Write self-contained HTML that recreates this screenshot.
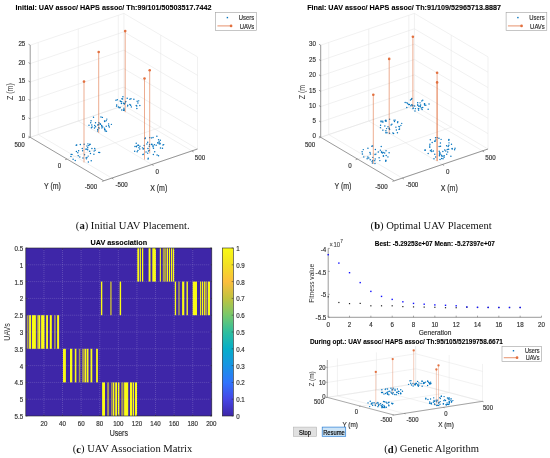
<!DOCTYPE html><html><head><meta charset="utf-8"><style>html,body{margin:0;padding:0;background:#fff;width:550px;height:458px;overflow:hidden}svg{display:block;filter:blur(0.4px)}</style></head><body><svg width="550" height="458" viewBox="0 0 550 458" font-family="Liberation Sans, sans-serif">
<rect width="550" height="458" fill="#fff"/>
<line x1="111.81" y1="178.08" x2="38.21" y2="134.58" stroke="#e2e2e2" stroke-width="0.5" />
<line x1="151.86" y1="164.49" x2="78.26" y2="120.99" stroke="#e2e2e2" stroke-width="0.5" />
<line x1="191.91" y1="150.90" x2="118.31" y2="107.40" stroke="#e2e2e2" stroke-width="0.5" />
<line x1="103.80" y1="180.80" x2="197.52" y2="149.00" stroke="#e2e2e2" stroke-width="0.5" />
<line x1="67.00" y1="159.05" x2="160.72" y2="127.25" stroke="#e2e2e2" stroke-width="0.5" />
<line x1="30.20" y1="137.30" x2="123.92" y2="105.50" stroke="#e2e2e2" stroke-width="0.5" />
<line x1="38.21" y1="134.58" x2="38.21" y2="42.48" stroke="#e2e2e2" stroke-width="0.5" />
<line x1="78.26" y1="120.99" x2="78.26" y2="28.89" stroke="#e2e2e2" stroke-width="0.5" />
<line x1="118.31" y1="107.40" x2="118.31" y2="15.30" stroke="#e2e2e2" stroke-width="0.5" />
<line x1="30.20" y1="137.30" x2="123.92" y2="105.50" stroke="#e2e2e2" stroke-width="0.5" />
<line x1="30.20" y1="118.88" x2="123.92" y2="87.08" stroke="#e2e2e2" stroke-width="0.5" />
<line x1="30.20" y1="100.46" x2="123.92" y2="68.66" stroke="#e2e2e2" stroke-width="0.5" />
<line x1="30.20" y1="82.04" x2="123.92" y2="50.24" stroke="#e2e2e2" stroke-width="0.5" />
<line x1="30.20" y1="63.62" x2="123.92" y2="31.82" stroke="#e2e2e2" stroke-width="0.5" />
<line x1="30.20" y1="45.20" x2="123.92" y2="13.40" stroke="#e2e2e2" stroke-width="0.5" />
<line x1="197.52" y1="149.00" x2="197.52" y2="56.90" stroke="#e2e2e2" stroke-width="0.5" />
<line x1="160.72" y1="127.25" x2="160.72" y2="35.15" stroke="#e2e2e2" stroke-width="0.5" />
<line x1="123.92" y1="105.50" x2="123.92" y2="13.40" stroke="#e2e2e2" stroke-width="0.5" />
<line x1="197.52" y1="149.00" x2="123.92" y2="105.50" stroke="#e2e2e2" stroke-width="0.5" />
<line x1="197.52" y1="130.58" x2="123.92" y2="87.08" stroke="#e2e2e2" stroke-width="0.5" />
<line x1="197.52" y1="112.16" x2="123.92" y2="68.66" stroke="#e2e2e2" stroke-width="0.5" />
<line x1="197.52" y1="93.74" x2="123.92" y2="50.24" stroke="#e2e2e2" stroke-width="0.5" />
<line x1="197.52" y1="75.32" x2="123.92" y2="31.82" stroke="#e2e2e2" stroke-width="0.5" />
<line x1="197.52" y1="56.90" x2="123.92" y2="13.40" stroke="#e2e2e2" stroke-width="0.5" />
<line x1="30.20" y1="137.30" x2="30.20" y2="45.20" stroke="#6e6e6e" stroke-width="0.7" />
<line x1="30.20" y1="137.30" x2="103.80" y2="180.80" stroke="#6e6e6e" stroke-width="0.7" />
<line x1="103.80" y1="180.80" x2="197.52" y2="149.00" stroke="#6e6e6e" stroke-width="0.7" />
<line x1="30.20" y1="137.30" x2="28.48" y2="136.28" stroke="#6e6e6e" stroke-width="0.63" />
<line x1="30.20" y1="118.88" x2="28.48" y2="117.86" stroke="#6e6e6e" stroke-width="0.63" />
<line x1="30.20" y1="100.46" x2="28.48" y2="99.44" stroke="#6e6e6e" stroke-width="0.63" />
<line x1="30.20" y1="82.04" x2="28.48" y2="81.02" stroke="#6e6e6e" stroke-width="0.63" />
<line x1="30.20" y1="63.62" x2="28.48" y2="62.60" stroke="#6e6e6e" stroke-width="0.63" />
<line x1="30.20" y1="45.20" x2="28.48" y2="44.18" stroke="#6e6e6e" stroke-width="0.63" />
<line x1="111.81" y1="178.08" x2="113.53" y2="179.10" stroke="#6e6e6e" stroke-width="0.63" />
<line x1="151.86" y1="164.49" x2="153.58" y2="165.51" stroke="#6e6e6e" stroke-width="0.63" />
<line x1="191.91" y1="150.90" x2="193.63" y2="151.92" stroke="#6e6e6e" stroke-width="0.63" />
<line x1="103.80" y1="180.80" x2="101.91" y2="181.44" stroke="#6e6e6e" stroke-width="0.63" />
<line x1="67.00" y1="159.05" x2="65.11" y2="159.69" stroke="#6e6e6e" stroke-width="0.63" />
<line x1="30.20" y1="137.30" x2="28.31" y2="137.94" stroke="#6e6e6e" stroke-width="0.63" />
<text transform="translate(25.30,135.40) scale(0.82,1)" font-size="7.56" text-anchor="end" font-weight="normal" fill="#303030" stroke="#303030" stroke-width="0.18" dominant-baseline="central">0</text>
<text transform="translate(25.30,117.00) scale(0.82,1)" font-size="7.56" text-anchor="end" font-weight="normal" fill="#303030" stroke="#303030" stroke-width="0.18" dominant-baseline="central">5</text>
<text transform="translate(25.30,98.60) scale(0.82,1)" font-size="7.56" text-anchor="end" font-weight="normal" fill="#303030" stroke="#303030" stroke-width="0.18" dominant-baseline="central">10</text>
<text transform="translate(25.30,80.20) scale(0.82,1)" font-size="7.56" text-anchor="end" font-weight="normal" fill="#303030" stroke="#303030" stroke-width="0.18" dominant-baseline="central">15</text>
<text transform="translate(25.30,61.80) scale(0.82,1)" font-size="7.56" text-anchor="end" font-weight="normal" fill="#303030" stroke="#303030" stroke-width="0.18" dominant-baseline="central">20</text>
<text transform="translate(25.30,43.20) scale(0.82,1)" font-size="7.56" text-anchor="end" font-weight="normal" fill="#303030" stroke="#303030" stroke-width="0.18" dominant-baseline="central">25</text>
<text transform="translate(121.60,184.70) scale(0.82,1)" font-size="7.56" text-anchor="middle" font-weight="normal" fill="#303030" stroke="#303030" stroke-width="0.18" dominant-baseline="central">-500</text>
<text transform="translate(157.20,171.00) scale(0.82,1)" font-size="7.56" text-anchor="middle" font-weight="normal" fill="#303030" stroke="#303030" stroke-width="0.18" dominant-baseline="central">0</text>
<text transform="translate(200.00,157.00) scale(0.82,1)" font-size="7.56" text-anchor="middle" font-weight="normal" fill="#303030" stroke="#303030" stroke-width="0.18" dominant-baseline="central">500</text>
<text transform="translate(19.60,144.00) scale(0.82,1)" font-size="7.56" text-anchor="middle" font-weight="normal" fill="#303030" stroke="#303030" stroke-width="0.18" dominant-baseline="central">500</text>
<text transform="translate(59.40,165.50) scale(0.82,1)" font-size="7.56" text-anchor="middle" font-weight="normal" fill="#303030" stroke="#303030" stroke-width="0.18" dominant-baseline="central">0</text>
<text transform="translate(91.00,186.00) scale(0.82,1)" font-size="7.56" text-anchor="middle" font-weight="normal" fill="#303030" stroke="#303030" stroke-width="0.18" dominant-baseline="central">-500</text>
<text transform="translate(158.70,188.50) scale(0.82,1)" font-size="8.54" text-anchor="middle" font-weight="normal" fill="#303030" stroke="#303030" stroke-width="0.18" dominant-baseline="central">X (m)</text>
<text transform="translate(52.40,185.80) scale(0.82,1)" font-size="8.54" text-anchor="middle" font-weight="normal" fill="#303030" stroke="#303030" stroke-width="0.18" dominant-baseline="central">Y (m)</text>
<text transform="translate(10.2,91.6) rotate(-90) scale(0.82,1)" font-size="8.54" text-anchor="middle" fill="#303030" dominant-baseline="central">Z (m)</text>
<text transform="translate(113.60,7.40) scale(0.9,1)" font-size="8.00" text-anchor="middle" font-weight="bold" fill="#000" stroke="#000" stroke-width="0.1" dominant-baseline="central">Initial: UAV assoc/ HAPS assoc/ Th:99/101/50503517.7442</text>
<circle cx="131.38" cy="106.90" r="0.72" fill="#0072BD"/>
<circle cx="136.80" cy="106.07" r="0.72" fill="#0072BD"/>
<circle cx="120.09" cy="107.57" r="0.72" fill="#0072BD"/>
<circle cx="123.48" cy="103.21" r="0.72" fill="#0072BD"/>
<circle cx="124.36" cy="103.91" r="0.72" fill="#0072BD"/>
<circle cx="129.87" cy="104.41" r="0.72" fill="#0072BD"/>
<circle cx="130.97" cy="98.80" r="0.72" fill="#0072BD"/>
<circle cx="127.61" cy="106.01" r="0.72" fill="#0072BD"/>
<circle cx="137.15" cy="101.31" r="0.72" fill="#0072BD"/>
<circle cx="118.45" cy="106.88" r="0.72" fill="#0072BD"/>
<circle cx="139.86" cy="105.52" r="0.72" fill="#0072BD"/>
<circle cx="123.65" cy="110.30" r="0.72" fill="#0072BD"/>
<circle cx="130.67" cy="105.30" r="0.72" fill="#0072BD"/>
<circle cx="129.89" cy="99.34" r="0.72" fill="#0072BD"/>
<circle cx="121.69" cy="101.67" r="0.72" fill="#0072BD"/>
<circle cx="119.13" cy="107.78" r="0.72" fill="#0072BD"/>
<circle cx="136.23" cy="105.52" r="0.72" fill="#0072BD"/>
<circle cx="127.72" cy="105.13" r="0.72" fill="#0072BD"/>
<circle cx="116.57" cy="106.13" r="0.72" fill="#0072BD"/>
<circle cx="120.16" cy="101.06" r="0.72" fill="#0072BD"/>
<circle cx="123.94" cy="108.30" r="0.72" fill="#0072BD"/>
<circle cx="122.93" cy="96.70" r="0.72" fill="#0072BD"/>
<circle cx="120.71" cy="101.56" r="0.72" fill="#0072BD"/>
<circle cx="133.88" cy="99.31" r="0.72" fill="#0072BD"/>
<circle cx="124.02" cy="109.77" r="0.72" fill="#0072BD"/>
<circle cx="136.87" cy="108.52" r="0.72" fill="#0072BD"/>
<circle cx="127.20" cy="98.26" r="0.72" fill="#0072BD"/>
<circle cx="121.43" cy="103.51" r="0.72" fill="#0072BD"/>
<circle cx="125.46" cy="101.96" r="0.72" fill="#0072BD"/>
<circle cx="115.98" cy="100.28" r="0.72" fill="#0072BD"/>
<circle cx="121.77" cy="110.02" r="0.72" fill="#0072BD"/>
<circle cx="117.26" cy="99.67" r="0.72" fill="#0072BD"/>
<circle cx="116.69" cy="104.91" r="0.72" fill="#0072BD"/>
<circle cx="138.69" cy="100.86" r="0.72" fill="#0072BD"/>
<circle cx="121.92" cy="98.69" r="0.72" fill="#0072BD"/>
<circle cx="125.78" cy="101.47" r="0.72" fill="#0072BD"/>
<circle cx="137.89" cy="103.03" r="0.72" fill="#0072BD"/>
<circle cx="124.10" cy="110.21" r="0.72" fill="#0072BD"/>
<circle cx="122.61" cy="99.07" r="0.72" fill="#0072BD"/>
<circle cx="124.79" cy="103.58" r="0.72" fill="#0072BD"/>
<circle cx="102.75" cy="126.96" r="0.72" fill="#0072BD"/>
<circle cx="98.89" cy="122.72" r="0.72" fill="#0072BD"/>
<circle cx="98.58" cy="127.65" r="0.72" fill="#0072BD"/>
<circle cx="104.55" cy="120.99" r="0.72" fill="#0072BD"/>
<circle cx="94.73" cy="125.43" r="0.72" fill="#0072BD"/>
<circle cx="106.21" cy="120.63" r="0.72" fill="#0072BD"/>
<circle cx="106.82" cy="119.10" r="0.72" fill="#0072BD"/>
<circle cx="92.13" cy="126.90" r="0.72" fill="#0072BD"/>
<circle cx="104.76" cy="121.43" r="0.72" fill="#0072BD"/>
<circle cx="106.49" cy="131.22" r="0.72" fill="#0072BD"/>
<circle cx="99.16" cy="128.12" r="0.72" fill="#0072BD"/>
<circle cx="91.77" cy="125.07" r="0.72" fill="#0072BD"/>
<circle cx="97.64" cy="130.97" r="0.72" fill="#0072BD"/>
<circle cx="97.72" cy="124.96" r="0.72" fill="#0072BD"/>
<circle cx="90.72" cy="122.68" r="0.72" fill="#0072BD"/>
<circle cx="93.51" cy="117.25" r="0.72" fill="#0072BD"/>
<circle cx="91.07" cy="120.74" r="0.72" fill="#0072BD"/>
<circle cx="109.36" cy="126.94" r="0.72" fill="#0072BD"/>
<circle cx="100.99" cy="117.06" r="0.72" fill="#0072BD"/>
<circle cx="102.38" cy="117.38" r="0.72" fill="#0072BD"/>
<circle cx="91.44" cy="127.75" r="0.72" fill="#0072BD"/>
<circle cx="95.51" cy="122.73" r="0.72" fill="#0072BD"/>
<circle cx="101.68" cy="125.54" r="0.72" fill="#0072BD"/>
<circle cx="101.85" cy="127.89" r="0.72" fill="#0072BD"/>
<circle cx="106.22" cy="126.25" r="0.72" fill="#0072BD"/>
<circle cx="98.62" cy="124.80" r="0.72" fill="#0072BD"/>
<circle cx="95.58" cy="126.67" r="0.72" fill="#0072BD"/>
<circle cx="100.07" cy="123.77" r="0.72" fill="#0072BD"/>
<circle cx="105.03" cy="129.86" r="0.72" fill="#0072BD"/>
<circle cx="94.46" cy="128.07" r="0.72" fill="#0072BD"/>
<circle cx="104.55" cy="128.15" r="0.72" fill="#0072BD"/>
<circle cx="111.39" cy="124.37" r="0.72" fill="#0072BD"/>
<circle cx="88.99" cy="125.27" r="0.72" fill="#0072BD"/>
<circle cx="101.79" cy="126.14" r="0.72" fill="#0072BD"/>
<circle cx="97.74" cy="129.48" r="0.72" fill="#0072BD"/>
<circle cx="105.23" cy="131.04" r="0.72" fill="#0072BD"/>
<circle cx="100.53" cy="124.32" r="0.72" fill="#0072BD"/>
<circle cx="104.66" cy="129.45" r="0.72" fill="#0072BD"/>
<circle cx="108.67" cy="125.72" r="0.72" fill="#0072BD"/>
<circle cx="108.58" cy="123.90" r="0.72" fill="#0072BD"/>
<circle cx="80.32" cy="144.43" r="0.72" fill="#0072BD"/>
<circle cx="79.80" cy="157.00" r="0.72" fill="#0072BD"/>
<circle cx="85.85" cy="149.15" r="0.72" fill="#0072BD"/>
<circle cx="87.01" cy="146.02" r="0.72" fill="#0072BD"/>
<circle cx="86.47" cy="158.86" r="0.72" fill="#0072BD"/>
<circle cx="98.63" cy="152.35" r="0.72" fill="#0072BD"/>
<circle cx="89.84" cy="144.53" r="0.72" fill="#0072BD"/>
<circle cx="84.13" cy="144.17" r="0.72" fill="#0072BD"/>
<circle cx="77.81" cy="152.67" r="0.72" fill="#0072BD"/>
<circle cx="93.91" cy="154.28" r="0.72" fill="#0072BD"/>
<circle cx="84.53" cy="154.84" r="0.72" fill="#0072BD"/>
<circle cx="82.27" cy="148.44" r="0.72" fill="#0072BD"/>
<circle cx="70.94" cy="156.38" r="0.72" fill="#0072BD"/>
<circle cx="99.67" cy="152.47" r="0.72" fill="#0072BD"/>
<circle cx="75.20" cy="160.55" r="0.72" fill="#0072BD"/>
<circle cx="86.03" cy="157.85" r="0.72" fill="#0072BD"/>
<circle cx="86.91" cy="157.45" r="0.72" fill="#0072BD"/>
<circle cx="94.73" cy="148.57" r="0.72" fill="#0072BD"/>
<circle cx="71.18" cy="154.38" r="0.72" fill="#0072BD"/>
<circle cx="88.77" cy="145.51" r="0.72" fill="#0072BD"/>
<circle cx="82.64" cy="150.74" r="0.72" fill="#0072BD"/>
<circle cx="87.92" cy="143.86" r="0.72" fill="#0072BD"/>
<circle cx="71.96" cy="154.39" r="0.72" fill="#0072BD"/>
<circle cx="86.56" cy="149.10" r="0.72" fill="#0072BD"/>
<circle cx="87.75" cy="147.73" r="0.72" fill="#0072BD"/>
<circle cx="73.11" cy="159.20" r="0.72" fill="#0072BD"/>
<circle cx="94.10" cy="151.12" r="0.72" fill="#0072BD"/>
<circle cx="91.23" cy="160.66" r="0.72" fill="#0072BD"/>
<circle cx="88.15" cy="156.10" r="0.72" fill="#0072BD"/>
<circle cx="90.03" cy="144.28" r="0.72" fill="#0072BD"/>
<circle cx="87.69" cy="149.81" r="0.72" fill="#0072BD"/>
<circle cx="76.72" cy="144.93" r="0.72" fill="#0072BD"/>
<circle cx="76.42" cy="151.42" r="0.72" fill="#0072BD"/>
<circle cx="90.48" cy="153.52" r="0.72" fill="#0072BD"/>
<circle cx="76.17" cy="145.24" r="0.72" fill="#0072BD"/>
<circle cx="95.08" cy="150.26" r="0.72" fill="#0072BD"/>
<circle cx="91.93" cy="148.45" r="0.72" fill="#0072BD"/>
<circle cx="88.35" cy="162.02" r="0.72" fill="#0072BD"/>
<circle cx="82.97" cy="158.04" r="0.72" fill="#0072BD"/>
<circle cx="78.62" cy="150.67" r="0.72" fill="#0072BD"/>
<circle cx="78.24" cy="155.68" r="0.72" fill="#0072BD"/>
<circle cx="89.65" cy="151.26" r="0.72" fill="#0072BD"/>
<circle cx="139.81" cy="148.93" r="0.72" fill="#0072BD"/>
<circle cx="159.08" cy="141.60" r="0.72" fill="#0072BD"/>
<circle cx="158.02" cy="142.99" r="0.72" fill="#0072BD"/>
<circle cx="137.89" cy="145.24" r="0.72" fill="#0072BD"/>
<circle cx="160.50" cy="148.06" r="0.72" fill="#0072BD"/>
<circle cx="153.33" cy="154.57" r="0.72" fill="#0072BD"/>
<circle cx="149.31" cy="146.25" r="0.72" fill="#0072BD"/>
<circle cx="142.45" cy="147.86" r="0.72" fill="#0072BD"/>
<circle cx="136.22" cy="143.30" r="0.72" fill="#0072BD"/>
<circle cx="139.93" cy="146.18" r="0.72" fill="#0072BD"/>
<circle cx="151.55" cy="137.90" r="0.72" fill="#0072BD"/>
<circle cx="144.16" cy="145.49" r="0.72" fill="#0072BD"/>
<circle cx="147.66" cy="153.14" r="0.72" fill="#0072BD"/>
<circle cx="134.96" cy="146.47" r="0.72" fill="#0072BD"/>
<circle cx="149.75" cy="137.65" r="0.72" fill="#0072BD"/>
<circle cx="134.68" cy="151.17" r="0.72" fill="#0072BD"/>
<circle cx="136.49" cy="146.66" r="0.72" fill="#0072BD"/>
<circle cx="144.97" cy="138.63" r="0.72" fill="#0072BD"/>
<circle cx="138.47" cy="145.25" r="0.72" fill="#0072BD"/>
<circle cx="159.32" cy="143.89" r="0.72" fill="#0072BD"/>
<circle cx="158.55" cy="139.68" r="0.72" fill="#0072BD"/>
<circle cx="148.06" cy="159.11" r="0.72" fill="#0072BD"/>
<circle cx="160.22" cy="143.74" r="0.72" fill="#0072BD"/>
<circle cx="158.55" cy="155.69" r="0.72" fill="#0072BD"/>
<circle cx="143.79" cy="148.55" r="0.72" fill="#0072BD"/>
<circle cx="149.25" cy="150.36" r="0.72" fill="#0072BD"/>
<circle cx="146.90" cy="144.04" r="0.72" fill="#0072BD"/>
<circle cx="160.30" cy="140.33" r="0.72" fill="#0072BD"/>
<circle cx="147.67" cy="142.20" r="0.72" fill="#0072BD"/>
<circle cx="157.10" cy="154.95" r="0.72" fill="#0072BD"/>
<circle cx="163.72" cy="144.62" r="0.72" fill="#0072BD"/>
<circle cx="156.17" cy="145.28" r="0.72" fill="#0072BD"/>
<circle cx="138.94" cy="147.63" r="0.72" fill="#0072BD"/>
<circle cx="156.88" cy="136.20" r="0.72" fill="#0072BD"/>
<circle cx="143.16" cy="149.10" r="0.72" fill="#0072BD"/>
<circle cx="142.90" cy="154.61" r="0.72" fill="#0072BD"/>
<circle cx="146.05" cy="152.03" r="0.72" fill="#0072BD"/>
<circle cx="162.49" cy="148.30" r="0.72" fill="#0072BD"/>
<circle cx="137.91" cy="150.40" r="0.72" fill="#0072BD"/>
<circle cx="147.95" cy="148.47" r="0.72" fill="#0072BD"/>
<circle cx="136.40" cy="146.24" r="0.72" fill="#0072BD"/>
<circle cx="153.04" cy="146.70" r="0.72" fill="#0072BD"/>
<circle cx="162.98" cy="145.04" r="0.72" fill="#0072BD"/>
<circle cx="148.49" cy="151.03" r="0.72" fill="#0072BD"/>
<circle cx="149.58" cy="144.55" r="0.72" fill="#0072BD"/>
<circle cx="154.71" cy="151.73" r="0.72" fill="#0072BD"/>
<circle cx="157.83" cy="142.71" r="0.72" fill="#0072BD"/>
<circle cx="148.22" cy="158.30" r="0.72" fill="#0072BD"/>
<circle cx="154.40" cy="144.65" r="0.72" fill="#0072BD"/>
<circle cx="145.30" cy="138.01" r="0.72" fill="#0072BD"/>
<circle cx="153.48" cy="148.32" r="0.72" fill="#0072BD"/>
<circle cx="137.16" cy="151.69" r="0.72" fill="#0072BD"/>
<circle cx="152.99" cy="145.73" r="0.72" fill="#0072BD"/>
<circle cx="153.06" cy="137.56" r="0.72" fill="#0072BD"/>
<circle cx="151.87" cy="144.16" r="0.72" fill="#0072BD"/>
<circle cx="151.69" cy="144.55" r="0.72" fill="#0072BD"/>
<circle cx="143.27" cy="154.13" r="0.72" fill="#0072BD"/>
<circle cx="159.66" cy="142.87" r="0.72" fill="#0072BD"/>
<line x1="84.00" y1="162.50" x2="84.00" y2="81.60" stroke="#D95319" stroke-width="1.0" stroke-opacity="0.48"/>
<line x1="98.70" y1="133.00" x2="98.70" y2="52.00" stroke="#D95319" stroke-width="1.0" stroke-opacity="0.48"/>
<line x1="125.20" y1="112.20" x2="125.20" y2="31.10" stroke="#D95319" stroke-width="1.0" stroke-opacity="0.48"/>
<line x1="144.50" y1="159.60" x2="144.50" y2="78.50" stroke="#D95319" stroke-width="1.0" stroke-opacity="0.48"/>
<line x1="149.70" y1="153.40" x2="149.70" y2="70.30" stroke="#D95319" stroke-width="1.0" stroke-opacity="0.48"/>
<circle cx="84.00" cy="81.60" r="1.3" fill="#E2703F"/>
<circle cx="98.70" cy="52.00" r="1.3" fill="#E2703F"/>
<circle cx="125.20" cy="31.10" r="1.3" fill="#E2703F"/>
<circle cx="144.50" cy="78.50" r="1.3" fill="#E2703F"/>
<circle cx="149.70" cy="70.30" r="1.3" fill="#E2703F"/>
<rect x="215.6" y="12.4" width="40.70000000000002" height="17.9" fill="#fff" stroke="#a0a0a0" stroke-width="0.6"/>
<rect x="226.70" y="16.89" width="1.4" height="1.4" fill="#0072BD"/>
<line x1="217.43" y1="25.91" x2="231.27" y2="25.91" stroke="#D95319" stroke-width="0.75" stroke-opacity="0.85"/>
<circle cx="231.07" cy="25.91" r="1.35" fill="#E2703F"/>
<text transform="translate(254.27,17.59) scale(0.82,1)" font-size="7.20" text-anchor="end" font-weight="normal" fill="#303030" stroke="#303030" stroke-width="0.18" dominant-baseline="central">Users</text>
<text transform="translate(254.27,25.91) scale(0.82,1)" font-size="7.20" text-anchor="end" font-weight="normal" fill="#303030" stroke="#303030" stroke-width="0.18" dominant-baseline="central">UAVs</text>
<line x1="402.31" y1="178.08" x2="328.71" y2="134.58" stroke="#e2e2e2" stroke-width="0.5" />
<line x1="442.36" y1="164.49" x2="368.76" y2="120.99" stroke="#e2e2e2" stroke-width="0.5" />
<line x1="482.41" y1="150.90" x2="408.81" y2="107.40" stroke="#e2e2e2" stroke-width="0.5" />
<line x1="394.30" y1="180.80" x2="488.02" y2="149.00" stroke="#e2e2e2" stroke-width="0.5" />
<line x1="357.50" y1="159.05" x2="451.22" y2="127.25" stroke="#e2e2e2" stroke-width="0.5" />
<line x1="320.70" y1="137.30" x2="414.42" y2="105.50" stroke="#e2e2e2" stroke-width="0.5" />
<line x1="328.71" y1="134.58" x2="328.71" y2="42.48" stroke="#e2e2e2" stroke-width="0.5" />
<line x1="368.76" y1="120.99" x2="368.76" y2="28.89" stroke="#e2e2e2" stroke-width="0.5" />
<line x1="408.81" y1="107.40" x2="408.81" y2="15.30" stroke="#e2e2e2" stroke-width="0.5" />
<line x1="320.70" y1="137.30" x2="414.42" y2="105.50" stroke="#e2e2e2" stroke-width="0.5" />
<line x1="320.70" y1="121.95" x2="414.42" y2="90.15" stroke="#e2e2e2" stroke-width="0.5" />
<line x1="320.70" y1="106.60" x2="414.42" y2="74.80" stroke="#e2e2e2" stroke-width="0.5" />
<line x1="320.70" y1="91.25" x2="414.42" y2="59.45" stroke="#e2e2e2" stroke-width="0.5" />
<line x1="320.70" y1="75.90" x2="414.42" y2="44.10" stroke="#e2e2e2" stroke-width="0.5" />
<line x1="320.70" y1="60.55" x2="414.42" y2="28.75" stroke="#e2e2e2" stroke-width="0.5" />
<line x1="320.70" y1="45.20" x2="414.42" y2="13.40" stroke="#e2e2e2" stroke-width="0.5" />
<line x1="488.02" y1="149.00" x2="488.02" y2="56.90" stroke="#e2e2e2" stroke-width="0.5" />
<line x1="451.22" y1="127.25" x2="451.22" y2="35.15" stroke="#e2e2e2" stroke-width="0.5" />
<line x1="414.42" y1="105.50" x2="414.42" y2="13.40" stroke="#e2e2e2" stroke-width="0.5" />
<line x1="488.02" y1="149.00" x2="414.42" y2="105.50" stroke="#e2e2e2" stroke-width="0.5" />
<line x1="488.02" y1="133.65" x2="414.42" y2="90.15" stroke="#e2e2e2" stroke-width="0.5" />
<line x1="488.02" y1="118.30" x2="414.42" y2="74.80" stroke="#e2e2e2" stroke-width="0.5" />
<line x1="488.02" y1="102.95" x2="414.42" y2="59.45" stroke="#e2e2e2" stroke-width="0.5" />
<line x1="488.02" y1="87.60" x2="414.42" y2="44.10" stroke="#e2e2e2" stroke-width="0.5" />
<line x1="488.02" y1="72.25" x2="414.42" y2="28.75" stroke="#e2e2e2" stroke-width="0.5" />
<line x1="488.02" y1="56.90" x2="414.42" y2="13.40" stroke="#e2e2e2" stroke-width="0.5" />
<line x1="320.70" y1="137.30" x2="320.70" y2="45.20" stroke="#6e6e6e" stroke-width="0.7" />
<line x1="320.70" y1="137.30" x2="394.30" y2="180.80" stroke="#6e6e6e" stroke-width="0.7" />
<line x1="394.30" y1="180.80" x2="488.02" y2="149.00" stroke="#6e6e6e" stroke-width="0.7" />
<line x1="320.70" y1="137.30" x2="318.98" y2="136.28" stroke="#6e6e6e" stroke-width="0.63" />
<line x1="320.70" y1="121.95" x2="318.98" y2="120.93" stroke="#6e6e6e" stroke-width="0.63" />
<line x1="320.70" y1="106.60" x2="318.98" y2="105.58" stroke="#6e6e6e" stroke-width="0.63" />
<line x1="320.70" y1="91.25" x2="318.98" y2="90.23" stroke="#6e6e6e" stroke-width="0.63" />
<line x1="320.70" y1="75.90" x2="318.98" y2="74.88" stroke="#6e6e6e" stroke-width="0.63" />
<line x1="320.70" y1="60.55" x2="318.98" y2="59.53" stroke="#6e6e6e" stroke-width="0.63" />
<line x1="320.70" y1="45.20" x2="318.98" y2="44.18" stroke="#6e6e6e" stroke-width="0.63" />
<line x1="402.31" y1="178.08" x2="404.03" y2="179.10" stroke="#6e6e6e" stroke-width="0.63" />
<line x1="442.36" y1="164.49" x2="444.08" y2="165.51" stroke="#6e6e6e" stroke-width="0.63" />
<line x1="482.41" y1="150.90" x2="484.13" y2="151.92" stroke="#6e6e6e" stroke-width="0.63" />
<line x1="394.30" y1="180.80" x2="392.41" y2="181.44" stroke="#6e6e6e" stroke-width="0.63" />
<line x1="357.50" y1="159.05" x2="355.61" y2="159.69" stroke="#6e6e6e" stroke-width="0.63" />
<line x1="320.70" y1="137.30" x2="318.81" y2="137.94" stroke="#6e6e6e" stroke-width="0.63" />
<text transform="translate(316.00,135.50) scale(0.82,1)" font-size="7.56" text-anchor="end" font-weight="normal" fill="#303030" stroke="#303030" stroke-width="0.18" dominant-baseline="central">0</text>
<text transform="translate(316.00,120.20) scale(0.82,1)" font-size="7.56" text-anchor="end" font-weight="normal" fill="#303030" stroke="#303030" stroke-width="0.18" dominant-baseline="central">5</text>
<text transform="translate(316.00,105.10) scale(0.82,1)" font-size="7.56" text-anchor="end" font-weight="normal" fill="#303030" stroke="#303030" stroke-width="0.18" dominant-baseline="central">10</text>
<text transform="translate(316.00,89.80) scale(0.82,1)" font-size="7.56" text-anchor="end" font-weight="normal" fill="#303030" stroke="#303030" stroke-width="0.18" dominant-baseline="central">15</text>
<text transform="translate(316.00,74.50) scale(0.82,1)" font-size="7.56" text-anchor="end" font-weight="normal" fill="#303030" stroke="#303030" stroke-width="0.18" dominant-baseline="central">20</text>
<text transform="translate(316.00,59.00) scale(0.82,1)" font-size="7.56" text-anchor="end" font-weight="normal" fill="#303030" stroke="#303030" stroke-width="0.18" dominant-baseline="central">25</text>
<text transform="translate(316.00,43.30) scale(0.82,1)" font-size="7.56" text-anchor="end" font-weight="normal" fill="#303030" stroke="#303030" stroke-width="0.18" dominant-baseline="central">30</text>
<text transform="translate(412.10,184.70) scale(0.82,1)" font-size="7.56" text-anchor="middle" font-weight="normal" fill="#303030" stroke="#303030" stroke-width="0.18" dominant-baseline="central">-500</text>
<text transform="translate(447.70,171.00) scale(0.82,1)" font-size="7.56" text-anchor="middle" font-weight="normal" fill="#303030" stroke="#303030" stroke-width="0.18" dominant-baseline="central">0</text>
<text transform="translate(490.50,157.00) scale(0.82,1)" font-size="7.56" text-anchor="middle" font-weight="normal" fill="#303030" stroke="#303030" stroke-width="0.18" dominant-baseline="central">500</text>
<text transform="translate(310.10,144.00) scale(0.82,1)" font-size="7.56" text-anchor="middle" font-weight="normal" fill="#303030" stroke="#303030" stroke-width="0.18" dominant-baseline="central">500</text>
<text transform="translate(349.90,165.50) scale(0.82,1)" font-size="7.56" text-anchor="middle" font-weight="normal" fill="#303030" stroke="#303030" stroke-width="0.18" dominant-baseline="central">0</text>
<text transform="translate(381.50,186.00) scale(0.82,1)" font-size="7.56" text-anchor="middle" font-weight="normal" fill="#303030" stroke="#303030" stroke-width="0.18" dominant-baseline="central">-500</text>
<text transform="translate(449.20,188.50) scale(0.82,1)" font-size="8.54" text-anchor="middle" font-weight="normal" fill="#303030" stroke="#303030" stroke-width="0.18" dominant-baseline="central">X (m)</text>
<text transform="translate(342.90,185.80) scale(0.82,1)" font-size="8.54" text-anchor="middle" font-weight="normal" fill="#303030" stroke="#303030" stroke-width="0.18" dominant-baseline="central">Y (m)</text>
<text transform="translate(302.4,99.2) rotate(-90) scale(0.82,1)" font-size="8.54" text-anchor="start" fill="#303030" dominant-baseline="central">Z (m</text>
<text transform="translate(404.10,7.40) scale(0.9,1)" font-size="8.00" text-anchor="middle" font-weight="bold" fill="#000" stroke="#000" stroke-width="0.1" dominant-baseline="central">Final: UAV assoc/ HAPS assoc/ Th:91/109/52965713.8887</text>
<circle cx="422.71" cy="107.52" r="0.72" fill="#0072BD"/>
<circle cx="418.61" cy="110.13" r="0.72" fill="#0072BD"/>
<circle cx="420.26" cy="106.81" r="0.72" fill="#0072BD"/>
<circle cx="418.80" cy="106.31" r="0.72" fill="#0072BD"/>
<circle cx="415.35" cy="108.64" r="0.72" fill="#0072BD"/>
<circle cx="414.98" cy="111.03" r="0.72" fill="#0072BD"/>
<circle cx="422.08" cy="109.47" r="0.72" fill="#0072BD"/>
<circle cx="425.80" cy="105.20" r="0.72" fill="#0072BD"/>
<circle cx="424.62" cy="105.06" r="0.72" fill="#0072BD"/>
<circle cx="406.93" cy="102.68" r="0.72" fill="#0072BD"/>
<circle cx="412.10" cy="105.22" r="0.72" fill="#0072BD"/>
<circle cx="428.15" cy="109.19" r="0.72" fill="#0072BD"/>
<circle cx="406.78" cy="107.51" r="0.72" fill="#0072BD"/>
<circle cx="422.72" cy="100.15" r="0.72" fill="#0072BD"/>
<circle cx="409.44" cy="104.50" r="0.72" fill="#0072BD"/>
<circle cx="429.03" cy="104.02" r="0.72" fill="#0072BD"/>
<circle cx="421.81" cy="100.88" r="0.72" fill="#0072BD"/>
<circle cx="410.45" cy="99.95" r="0.72" fill="#0072BD"/>
<circle cx="412.96" cy="108.60" r="0.72" fill="#0072BD"/>
<circle cx="420.06" cy="105.97" r="0.72" fill="#0072BD"/>
<circle cx="417.69" cy="102.71" r="0.72" fill="#0072BD"/>
<circle cx="421.44" cy="107.94" r="0.72" fill="#0072BD"/>
<circle cx="420.03" cy="102.87" r="0.72" fill="#0072BD"/>
<circle cx="411.87" cy="98.56" r="0.72" fill="#0072BD"/>
<circle cx="418.25" cy="108.68" r="0.72" fill="#0072BD"/>
<circle cx="410.83" cy="105.72" r="0.72" fill="#0072BD"/>
<circle cx="412.85" cy="105.69" r="0.72" fill="#0072BD"/>
<circle cx="424.63" cy="103.78" r="0.72" fill="#0072BD"/>
<circle cx="405.16" cy="102.54" r="0.72" fill="#0072BD"/>
<circle cx="424.42" cy="103.91" r="0.72" fill="#0072BD"/>
<circle cx="413.24" cy="107.97" r="0.72" fill="#0072BD"/>
<circle cx="417.58" cy="104.87" r="0.72" fill="#0072BD"/>
<circle cx="408.60" cy="104.61" r="0.72" fill="#0072BD"/>
<circle cx="411.85" cy="104.60" r="0.72" fill="#0072BD"/>
<circle cx="417.82" cy="105.23" r="0.72" fill="#0072BD"/>
<circle cx="414.64" cy="106.03" r="0.72" fill="#0072BD"/>
<circle cx="420.63" cy="104.92" r="0.72" fill="#0072BD"/>
<circle cx="418.70" cy="108.81" r="0.72" fill="#0072BD"/>
<circle cx="407.74" cy="103.65" r="0.72" fill="#0072BD"/>
<circle cx="411.48" cy="99.27" r="0.72" fill="#0072BD"/>
<circle cx="397.80" cy="121.80" r="0.72" fill="#0072BD"/>
<circle cx="385.91" cy="130.78" r="0.72" fill="#0072BD"/>
<circle cx="397.43" cy="132.73" r="0.72" fill="#0072BD"/>
<circle cx="382.72" cy="121.13" r="0.72" fill="#0072BD"/>
<circle cx="391.11" cy="124.98" r="0.72" fill="#0072BD"/>
<circle cx="381.02" cy="121.05" r="0.72" fill="#0072BD"/>
<circle cx="394.01" cy="120.14" r="0.72" fill="#0072BD"/>
<circle cx="384.83" cy="125.96" r="0.72" fill="#0072BD"/>
<circle cx="394.47" cy="121.57" r="0.72" fill="#0072BD"/>
<circle cx="395.17" cy="120.11" r="0.72" fill="#0072BD"/>
<circle cx="397.59" cy="122.63" r="0.72" fill="#0072BD"/>
<circle cx="385.90" cy="120.28" r="0.72" fill="#0072BD"/>
<circle cx="395.91" cy="127.14" r="0.72" fill="#0072BD"/>
<circle cx="386.61" cy="128.61" r="0.72" fill="#0072BD"/>
<circle cx="391.90" cy="124.20" r="0.72" fill="#0072BD"/>
<circle cx="382.85" cy="122.15" r="0.72" fill="#0072BD"/>
<circle cx="385.29" cy="120.73" r="0.72" fill="#0072BD"/>
<circle cx="398.93" cy="126.52" r="0.72" fill="#0072BD"/>
<circle cx="389.57" cy="119.34" r="0.72" fill="#0072BD"/>
<circle cx="380.57" cy="125.17" r="0.72" fill="#0072BD"/>
<circle cx="399.51" cy="128.99" r="0.72" fill="#0072BD"/>
<circle cx="389.54" cy="133.18" r="0.72" fill="#0072BD"/>
<circle cx="389.35" cy="128.55" r="0.72" fill="#0072BD"/>
<circle cx="392.83" cy="132.88" r="0.72" fill="#0072BD"/>
<circle cx="400.92" cy="125.37" r="0.72" fill="#0072BD"/>
<circle cx="382.84" cy="130.14" r="0.72" fill="#0072BD"/>
<circle cx="386.00" cy="121.40" r="0.72" fill="#0072BD"/>
<circle cx="381.12" cy="121.76" r="0.72" fill="#0072BD"/>
<circle cx="399.05" cy="129.36" r="0.72" fill="#0072BD"/>
<circle cx="389.57" cy="129.43" r="0.72" fill="#0072BD"/>
<circle cx="385.88" cy="132.82" r="0.72" fill="#0072BD"/>
<circle cx="399.62" cy="126.87" r="0.72" fill="#0072BD"/>
<circle cx="389.32" cy="128.33" r="0.72" fill="#0072BD"/>
<circle cx="385.86" cy="120.35" r="0.72" fill="#0072BD"/>
<circle cx="386.95" cy="132.68" r="0.72" fill="#0072BD"/>
<circle cx="380.45" cy="127.65" r="0.72" fill="#0072BD"/>
<circle cx="396.33" cy="130.06" r="0.72" fill="#0072BD"/>
<circle cx="393.61" cy="133.49" r="0.72" fill="#0072BD"/>
<circle cx="401.72" cy="123.35" r="0.72" fill="#0072BD"/>
<circle cx="388.01" cy="126.67" r="0.72" fill="#0072BD"/>
<circle cx="389.12" cy="152.84" r="0.72" fill="#0072BD"/>
<circle cx="374.73" cy="160.63" r="0.72" fill="#0072BD"/>
<circle cx="382.33" cy="153.09" r="0.72" fill="#0072BD"/>
<circle cx="369.94" cy="152.43" r="0.72" fill="#0072BD"/>
<circle cx="370.35" cy="153.98" r="0.72" fill="#0072BD"/>
<circle cx="385.68" cy="161.15" r="0.72" fill="#0072BD"/>
<circle cx="362.43" cy="154.04" r="0.72" fill="#0072BD"/>
<circle cx="371.84" cy="146.21" r="0.72" fill="#0072BD"/>
<circle cx="381.64" cy="151.85" r="0.72" fill="#0072BD"/>
<circle cx="386.16" cy="155.50" r="0.72" fill="#0072BD"/>
<circle cx="375.01" cy="154.53" r="0.72" fill="#0072BD"/>
<circle cx="372.69" cy="160.35" r="0.72" fill="#0072BD"/>
<circle cx="372.79" cy="157.37" r="0.72" fill="#0072BD"/>
<circle cx="380.40" cy="150.14" r="0.72" fill="#0072BD"/>
<circle cx="375.90" cy="154.12" r="0.72" fill="#0072BD"/>
<circle cx="385.85" cy="160.27" r="0.72" fill="#0072BD"/>
<circle cx="372.60" cy="145.88" r="0.72" fill="#0072BD"/>
<circle cx="372.40" cy="162.96" r="0.72" fill="#0072BD"/>
<circle cx="368.79" cy="158.00" r="0.72" fill="#0072BD"/>
<circle cx="363.29" cy="149.61" r="0.72" fill="#0072BD"/>
<circle cx="367.85" cy="156.91" r="0.72" fill="#0072BD"/>
<circle cx="383.36" cy="155.94" r="0.72" fill="#0072BD"/>
<circle cx="378.31" cy="151.97" r="0.72" fill="#0072BD"/>
<circle cx="383.22" cy="152.56" r="0.72" fill="#0072BD"/>
<circle cx="375.17" cy="159.07" r="0.72" fill="#0072BD"/>
<circle cx="379.83" cy="160.61" r="0.72" fill="#0072BD"/>
<circle cx="384.66" cy="152.97" r="0.72" fill="#0072BD"/>
<circle cx="381.22" cy="146.50" r="0.72" fill="#0072BD"/>
<circle cx="386.03" cy="150.72" r="0.72" fill="#0072BD"/>
<circle cx="362.13" cy="151.78" r="0.72" fill="#0072BD"/>
<circle cx="387.93" cy="156.89" r="0.72" fill="#0072BD"/>
<circle cx="363.75" cy="156.89" r="0.72" fill="#0072BD"/>
<circle cx="367.94" cy="148.21" r="0.72" fill="#0072BD"/>
<circle cx="383.50" cy="155.99" r="0.72" fill="#0072BD"/>
<circle cx="385.89" cy="160.85" r="0.72" fill="#0072BD"/>
<circle cx="370.22" cy="159.76" r="0.72" fill="#0072BD"/>
<circle cx="375.34" cy="149.49" r="0.72" fill="#0072BD"/>
<circle cx="374.96" cy="163.57" r="0.72" fill="#0072BD"/>
<circle cx="372.11" cy="161.57" r="0.72" fill="#0072BD"/>
<circle cx="367.14" cy="158.73" r="0.72" fill="#0072BD"/>
<circle cx="379.11" cy="157.70" r="0.72" fill="#0072BD"/>
<circle cx="381.54" cy="152.16" r="0.72" fill="#0072BD"/>
<circle cx="442.00" cy="156.23" r="0.72" fill="#0072BD"/>
<circle cx="455.03" cy="148.16" r="0.72" fill="#0072BD"/>
<circle cx="446.72" cy="154.23" r="0.72" fill="#0072BD"/>
<circle cx="445.77" cy="151.07" r="0.72" fill="#0072BD"/>
<circle cx="447.72" cy="151.98" r="0.72" fill="#0072BD"/>
<circle cx="439.49" cy="153.92" r="0.72" fill="#0072BD"/>
<circle cx="449.01" cy="142.85" r="0.72" fill="#0072BD"/>
<circle cx="428.15" cy="153.50" r="0.72" fill="#0072BD"/>
<circle cx="429.79" cy="147.30" r="0.72" fill="#0072BD"/>
<circle cx="434.76" cy="154.30" r="0.72" fill="#0072BD"/>
<circle cx="439.22" cy="151.17" r="0.72" fill="#0072BD"/>
<circle cx="450.90" cy="156.30" r="0.72" fill="#0072BD"/>
<circle cx="432.16" cy="142.57" r="0.72" fill="#0072BD"/>
<circle cx="443.03" cy="158.66" r="0.72" fill="#0072BD"/>
<circle cx="439.98" cy="154.28" r="0.72" fill="#0072BD"/>
<circle cx="430.42" cy="150.78" r="0.72" fill="#0072BD"/>
<circle cx="448.92" cy="139.42" r="0.72" fill="#0072BD"/>
<circle cx="454.62" cy="149.84" r="0.72" fill="#0072BD"/>
<circle cx="439.18" cy="146.44" r="0.72" fill="#0072BD"/>
<circle cx="425.06" cy="150.19" r="0.72" fill="#0072BD"/>
<circle cx="452.08" cy="148.41" r="0.72" fill="#0072BD"/>
<circle cx="448.82" cy="145.26" r="0.72" fill="#0072BD"/>
<circle cx="448.79" cy="140.31" r="0.72" fill="#0072BD"/>
<circle cx="440.05" cy="159.54" r="0.72" fill="#0072BD"/>
<circle cx="442.87" cy="151.48" r="0.72" fill="#0072BD"/>
<circle cx="435.14" cy="140.97" r="0.72" fill="#0072BD"/>
<circle cx="437.17" cy="137.61" r="0.72" fill="#0072BD"/>
<circle cx="441.09" cy="139.35" r="0.72" fill="#0072BD"/>
<circle cx="429.71" cy="145.97" r="0.72" fill="#0072BD"/>
<circle cx="440.54" cy="146.20" r="0.72" fill="#0072BD"/>
<circle cx="446.62" cy="145.77" r="0.72" fill="#0072BD"/>
<circle cx="435.66" cy="156.97" r="0.72" fill="#0072BD"/>
<circle cx="439.84" cy="152.44" r="0.72" fill="#0072BD"/>
<circle cx="435.87" cy="139.85" r="0.72" fill="#0072BD"/>
<circle cx="444.71" cy="150.02" r="0.72" fill="#0072BD"/>
<circle cx="429.91" cy="144.33" r="0.72" fill="#0072BD"/>
<circle cx="441.54" cy="155.34" r="0.72" fill="#0072BD"/>
<circle cx="452.20" cy="148.98" r="0.72" fill="#0072BD"/>
<circle cx="431.43" cy="149.92" r="0.72" fill="#0072BD"/>
<circle cx="430.32" cy="139.67" r="0.72" fill="#0072BD"/>
<circle cx="425.13" cy="150.04" r="0.72" fill="#0072BD"/>
<circle cx="440.04" cy="153.87" r="0.72" fill="#0072BD"/>
<circle cx="435.52" cy="137.77" r="0.72" fill="#0072BD"/>
<circle cx="448.63" cy="149.25" r="0.72" fill="#0072BD"/>
<circle cx="434.77" cy="141.30" r="0.72" fill="#0072BD"/>
<circle cx="439.43" cy="155.72" r="0.72" fill="#0072BD"/>
<circle cx="451.48" cy="144.22" r="0.72" fill="#0072BD"/>
<circle cx="447.30" cy="149.54" r="0.72" fill="#0072BD"/>
<circle cx="431.78" cy="151.54" r="0.72" fill="#0072BD"/>
<circle cx="444.11" cy="157.24" r="0.72" fill="#0072BD"/>
<circle cx="438.93" cy="138.34" r="0.72" fill="#0072BD"/>
<circle cx="443.04" cy="156.11" r="0.72" fill="#0072BD"/>
<circle cx="433.98" cy="158.70" r="0.72" fill="#0072BD"/>
<circle cx="441.63" cy="158.56" r="0.72" fill="#0072BD"/>
<circle cx="440.39" cy="143.09" r="0.72" fill="#0072BD"/>
<circle cx="448.14" cy="146.57" r="0.72" fill="#0072BD"/>
<circle cx="444.20" cy="155.75" r="0.72" fill="#0072BD"/>
<circle cx="433.38" cy="151.06" r="0.72" fill="#0072BD"/>
<line x1="373.30" y1="164.00" x2="373.30" y2="94.70" stroke="#D95319" stroke-width="1.0" stroke-opacity="0.48"/>
<line x1="389.20" y1="134.30" x2="389.20" y2="58.90" stroke="#D95319" stroke-width="1.0" stroke-opacity="0.48"/>
<line x1="412.90" y1="107.40" x2="412.90" y2="36.70" stroke="#D95319" stroke-width="1.0" stroke-opacity="0.48"/>
<line x1="437.10" y1="161.00" x2="437.10" y2="72.70" stroke="#D95319" stroke-width="1.0" stroke-opacity="0.48"/>
<line x1="437.10" y1="161.00" x2="437.10" y2="82.40" stroke="#D95319" stroke-width="1.0" stroke-opacity="0.48"/>
<circle cx="373.30" cy="94.70" r="1.3" fill="#E2703F"/>
<circle cx="389.20" cy="58.90" r="1.3" fill="#E2703F"/>
<circle cx="412.90" cy="36.70" r="1.3" fill="#E2703F"/>
<circle cx="437.10" cy="72.70" r="1.3" fill="#E2703F"/>
<circle cx="437.10" cy="82.40" r="1.3" fill="#E2703F"/>
<rect x="506.1" y="12.4" width="40.69999999999993" height="17.9" fill="#fff" stroke="#a0a0a0" stroke-width="0.6"/>
<rect x="517.20" y="16.89" width="1.4" height="1.4" fill="#0072BD"/>
<line x1="507.93" y1="25.91" x2="521.77" y2="25.91" stroke="#D95319" stroke-width="0.75" stroke-opacity="0.85"/>
<circle cx="521.57" cy="25.91" r="1.35" fill="#E2703F"/>
<text transform="translate(544.76,17.59) scale(0.82,1)" font-size="7.20" text-anchor="end" font-weight="normal" fill="#303030" stroke="#303030" stroke-width="0.18" dominant-baseline="central">Users</text>
<text transform="translate(544.76,25.91) scale(0.82,1)" font-size="7.20" text-anchor="end" font-weight="normal" fill="#303030" stroke="#303030" stroke-width="0.18" dominant-baseline="central">UAVs</text>
<rect x="25.8" y="248.0" width="186.0" height="168.0" fill="#3E26A8"/>
<rect x="137.30" y="248.00" width="1.80" height="33.60" fill="#F9FB15"/>
<rect x="139.80" y="248.00" width="1.10" height="33.60" fill="#F9FB15"/>
<rect x="142.00" y="248.00" width="1.20" height="33.60" fill="#F9FB15"/>
<rect x="148.60" y="248.00" width="1.90" height="33.60" fill="#F9FB15"/>
<rect x="152.30" y="248.00" width="3.60" height="33.60" fill="#F9FB15"/>
<rect x="159.80" y="248.00" width="1.10" height="33.60" fill="#F9FB15"/>
<rect x="162.70" y="248.00" width="3.70" height="33.60" fill="#A89A52"/>
<rect x="166.80" y="248.00" width="1.20" height="33.60" fill="#F9FB15"/>
<rect x="168.90" y="248.00" width="1.10" height="33.60" fill="#F9FB15"/>
<rect x="170.90" y="248.00" width="1.10" height="33.60" fill="#F9FB15"/>
<rect x="172.70" y="248.00" width="1.40" height="33.60" fill="#F9FB15"/>
<rect x="100.90" y="281.60" width="1.40" height="33.60" fill="#F9FB15"/>
<rect x="110.00" y="281.60" width="1.80" height="33.60" fill="#A89A52"/>
<rect x="119.70" y="281.60" width="1.40" height="33.60" fill="#F9FB15"/>
<rect x="174.80" y="281.60" width="1.30" height="33.60" fill="#F9FB15"/>
<rect x="178.20" y="281.60" width="1.60" height="33.60" fill="#A89A52"/>
<rect x="182.10" y="281.60" width="2.20" height="33.60" fill="#F9FB15"/>
<rect x="186.50" y="281.60" width="1.40" height="33.60" fill="#F9FB15"/>
<rect x="192.70" y="281.60" width="4.30" height="33.60" fill="#F9FB15"/>
<rect x="200.00" y="281.60" width="0.90" height="33.60" fill="#F9FB15"/>
<rect x="201.80" y="281.60" width="1.40" height="33.60" fill="#F9FB15"/>
<rect x="204.10" y="281.60" width="1.40" height="33.60" fill="#F9FB15"/>
<rect x="205.70" y="281.60" width="1.60" height="33.60" fill="#A89A52"/>
<rect x="207.90" y="281.60" width="2.10" height="33.60" fill="#F9FB15"/>
<rect x="26.80" y="315.20" width="1.80" height="33.60" fill="#A89A52"/>
<rect x="29.10" y="315.20" width="2.00" height="33.60" fill="#F9FB15"/>
<rect x="32.00" y="315.20" width="3.90" height="33.60" fill="#F9FB15"/>
<rect x="36.80" y="315.20" width="1.20" height="33.60" fill="#A89A52"/>
<rect x="38.20" y="315.20" width="2.00" height="33.60" fill="#F9FB15"/>
<rect x="41.10" y="315.20" width="3.40" height="33.60" fill="#F9FB15"/>
<rect x="46.10" y="315.20" width="1.90" height="33.60" fill="#F9FB15"/>
<rect x="49.80" y="315.20" width="2.00" height="33.60" fill="#F9FB15"/>
<rect x="54.10" y="315.20" width="1.60" height="33.60" fill="#A89A52"/>
<rect x="57.10" y="315.20" width="2.00" height="33.60" fill="#F9FB15"/>
<rect x="63.00" y="348.80" width="2.90" height="33.60" fill="#F9FB15"/>
<rect x="70.00" y="348.80" width="2.30" height="33.60" fill="#F9FB15"/>
<rect x="74.80" y="348.80" width="1.60" height="33.60" fill="#F9FB15"/>
<rect x="78.80" y="348.80" width="1.50" height="33.60" fill="#A89A52"/>
<rect x="82.10" y="348.80" width="2.90" height="33.60" fill="#A89A52"/>
<rect x="85.00" y="348.80" width="1.40" height="33.60" fill="#F9FB15"/>
<rect x="87.00" y="348.80" width="1.50" height="33.60" fill="#F9FB15"/>
<rect x="90.50" y="348.80" width="1.80" height="33.60" fill="#F9FB15"/>
<rect x="96.10" y="348.80" width="1.80" height="33.60" fill="#F9FB15"/>
<rect x="102.10" y="382.40" width="2.90" height="33.60" fill="#F9FB15"/>
<rect x="107.10" y="382.40" width="2.00" height="33.60" fill="#A89A52"/>
<rect x="111.10" y="382.40" width="1.20" height="33.60" fill="#A89A52"/>
<rect x="112.70" y="382.40" width="1.60" height="33.60" fill="#F9FB15"/>
<rect x="115.20" y="382.40" width="1.80" height="33.60" fill="#F9FB15"/>
<rect x="117.90" y="382.40" width="1.50" height="33.60" fill="#F9FB15"/>
<rect x="121.20" y="382.40" width="2.40" height="33.60" fill="#A89A52"/>
<rect x="124.10" y="382.40" width="4.10" height="33.60" fill="#F9FB15"/>
<rect x="130.00" y="382.40" width="2.10" height="33.60" fill="#F9FB15"/>
<rect x="132.70" y="382.40" width="1.40" height="33.60" fill="#F9FB15"/>
<rect x="135.00" y="382.40" width="2.00" height="33.60" fill="#F9FB15"/>
<line x1="43.94" y1="248.00" x2="43.94" y2="416.00" stroke="#ffffff" stroke-width="0.5" stroke-opacity="0.35" stroke-dasharray="1 1"/>
<line x1="62.53" y1="248.00" x2="62.53" y2="416.00" stroke="#ffffff" stroke-width="0.5" stroke-opacity="0.35" stroke-dasharray="1 1"/>
<line x1="81.14" y1="248.00" x2="81.14" y2="416.00" stroke="#ffffff" stroke-width="0.5" stroke-opacity="0.35" stroke-dasharray="1 1"/>
<line x1="99.73" y1="248.00" x2="99.73" y2="416.00" stroke="#ffffff" stroke-width="0.5" stroke-opacity="0.35" stroke-dasharray="1 1"/>
<line x1="118.33" y1="248.00" x2="118.33" y2="416.00" stroke="#ffffff" stroke-width="0.5" stroke-opacity="0.35" stroke-dasharray="1 1"/>
<line x1="136.94" y1="248.00" x2="136.94" y2="416.00" stroke="#ffffff" stroke-width="0.5" stroke-opacity="0.35" stroke-dasharray="1 1"/>
<line x1="155.54" y1="248.00" x2="155.54" y2="416.00" stroke="#ffffff" stroke-width="0.5" stroke-opacity="0.35" stroke-dasharray="1 1"/>
<line x1="174.14" y1="248.00" x2="174.14" y2="416.00" stroke="#ffffff" stroke-width="0.5" stroke-opacity="0.35" stroke-dasharray="1 1"/>
<line x1="192.74" y1="248.00" x2="192.74" y2="416.00" stroke="#ffffff" stroke-width="0.5" stroke-opacity="0.35" stroke-dasharray="1 1"/>
<line x1="25.80" y1="264.80" x2="211.80" y2="264.80" stroke="#ffffff" stroke-width="0.5" stroke-opacity="0.35" stroke-dasharray="1 1"/>
<line x1="25.80" y1="281.60" x2="211.80" y2="281.60" stroke="#ffffff" stroke-width="0.5" stroke-opacity="0.35" stroke-dasharray="1 1"/>
<line x1="25.80" y1="298.40" x2="211.80" y2="298.40" stroke="#ffffff" stroke-width="0.5" stroke-opacity="0.35" stroke-dasharray="1 1"/>
<line x1="25.80" y1="315.20" x2="211.80" y2="315.20" stroke="#ffffff" stroke-width="0.5" stroke-opacity="0.35" stroke-dasharray="1 1"/>
<line x1="25.80" y1="332.00" x2="211.80" y2="332.00" stroke="#ffffff" stroke-width="0.5" stroke-opacity="0.35" stroke-dasharray="1 1"/>
<line x1="25.80" y1="348.80" x2="211.80" y2="348.80" stroke="#ffffff" stroke-width="0.5" stroke-opacity="0.35" stroke-dasharray="1 1"/>
<line x1="25.80" y1="365.60" x2="211.80" y2="365.60" stroke="#ffffff" stroke-width="0.5" stroke-opacity="0.35" stroke-dasharray="1 1"/>
<line x1="25.80" y1="382.40" x2="211.80" y2="382.40" stroke="#ffffff" stroke-width="0.5" stroke-opacity="0.35" stroke-dasharray="1 1"/>
<line x1="25.80" y1="399.20" x2="211.80" y2="399.20" stroke="#ffffff" stroke-width="0.5" stroke-opacity="0.35" stroke-dasharray="1 1"/>
<rect x="25.8" y="248.0" width="186.0" height="168.0" fill="none" stroke="#262626" stroke-width="0.6"/>
<line x1="43.94" y1="416.00" x2="43.94" y2="414.40" stroke="#262626" stroke-width="0.5" />
<line x1="43.94" y1="248.00" x2="43.94" y2="249.60" stroke="#262626" stroke-width="0.5" />
<text transform="translate(43.94,423.40) scale(0.82,1)" font-size="7.56" text-anchor="middle" font-weight="normal" fill="#303030" stroke="#303030" stroke-width="0.18" dominant-baseline="central">20</text>
<line x1="62.53" y1="416.00" x2="62.53" y2="414.40" stroke="#262626" stroke-width="0.5" />
<line x1="62.53" y1="248.00" x2="62.53" y2="249.60" stroke="#262626" stroke-width="0.5" />
<text transform="translate(62.53,423.40) scale(0.82,1)" font-size="7.56" text-anchor="middle" font-weight="normal" fill="#303030" stroke="#303030" stroke-width="0.18" dominant-baseline="central">40</text>
<line x1="81.14" y1="416.00" x2="81.14" y2="414.40" stroke="#262626" stroke-width="0.5" />
<line x1="81.14" y1="248.00" x2="81.14" y2="249.60" stroke="#262626" stroke-width="0.5" />
<text transform="translate(81.14,423.40) scale(0.82,1)" font-size="7.56" text-anchor="middle" font-weight="normal" fill="#303030" stroke="#303030" stroke-width="0.18" dominant-baseline="central">60</text>
<line x1="99.73" y1="416.00" x2="99.73" y2="414.40" stroke="#262626" stroke-width="0.5" />
<line x1="99.73" y1="248.00" x2="99.73" y2="249.60" stroke="#262626" stroke-width="0.5" />
<text transform="translate(99.73,423.40) scale(0.82,1)" font-size="7.56" text-anchor="middle" font-weight="normal" fill="#303030" stroke="#303030" stroke-width="0.18" dominant-baseline="central">80</text>
<line x1="118.33" y1="416.00" x2="118.33" y2="414.40" stroke="#262626" stroke-width="0.5" />
<line x1="118.33" y1="248.00" x2="118.33" y2="249.60" stroke="#262626" stroke-width="0.5" />
<text transform="translate(118.33,423.40) scale(0.82,1)" font-size="7.56" text-anchor="middle" font-weight="normal" fill="#303030" stroke="#303030" stroke-width="0.18" dominant-baseline="central">100</text>
<line x1="136.94" y1="416.00" x2="136.94" y2="414.40" stroke="#262626" stroke-width="0.5" />
<line x1="136.94" y1="248.00" x2="136.94" y2="249.60" stroke="#262626" stroke-width="0.5" />
<text transform="translate(136.94,423.40) scale(0.82,1)" font-size="7.56" text-anchor="middle" font-weight="normal" fill="#303030" stroke="#303030" stroke-width="0.18" dominant-baseline="central">120</text>
<line x1="155.54" y1="416.00" x2="155.54" y2="414.40" stroke="#262626" stroke-width="0.5" />
<line x1="155.54" y1="248.00" x2="155.54" y2="249.60" stroke="#262626" stroke-width="0.5" />
<text transform="translate(155.54,423.40) scale(0.82,1)" font-size="7.56" text-anchor="middle" font-weight="normal" fill="#303030" stroke="#303030" stroke-width="0.18" dominant-baseline="central">140</text>
<line x1="174.14" y1="416.00" x2="174.14" y2="414.40" stroke="#262626" stroke-width="0.5" />
<line x1="174.14" y1="248.00" x2="174.14" y2="249.60" stroke="#262626" stroke-width="0.5" />
<text transform="translate(174.14,423.40) scale(0.82,1)" font-size="7.56" text-anchor="middle" font-weight="normal" fill="#303030" stroke="#303030" stroke-width="0.18" dominant-baseline="central">160</text>
<line x1="192.74" y1="416.00" x2="192.74" y2="414.40" stroke="#262626" stroke-width="0.5" />
<line x1="192.74" y1="248.00" x2="192.74" y2="249.60" stroke="#262626" stroke-width="0.5" />
<text transform="translate(192.74,423.40) scale(0.82,1)" font-size="7.56" text-anchor="middle" font-weight="normal" fill="#303030" stroke="#303030" stroke-width="0.18" dominant-baseline="central">180</text>
<line x1="211.34" y1="416.00" x2="211.34" y2="414.40" stroke="#262626" stroke-width="0.5" />
<line x1="211.34" y1="248.00" x2="211.34" y2="249.60" stroke="#262626" stroke-width="0.5" />
<text transform="translate(211.34,423.40) scale(0.82,1)" font-size="7.56" text-anchor="middle" font-weight="normal" fill="#303030" stroke="#303030" stroke-width="0.18" dominant-baseline="central">200</text>
<line x1="25.80" y1="248.00" x2="27.40" y2="248.00" stroke="#262626" stroke-width="0.5" />
<line x1="211.80" y1="248.00" x2="210.20" y2="248.00" stroke="#262626" stroke-width="0.5" />
<text transform="translate(23.20,248.30) scale(0.82,1)" font-size="7.56" text-anchor="end" font-weight="normal" fill="#303030" stroke="#303030" stroke-width="0.18" dominant-baseline="central">0.5</text>
<line x1="25.80" y1="264.80" x2="27.40" y2="264.80" stroke="#262626" stroke-width="0.5" />
<line x1="211.80" y1="264.80" x2="210.20" y2="264.80" stroke="#262626" stroke-width="0.5" />
<text transform="translate(23.20,265.10) scale(0.82,1)" font-size="7.56" text-anchor="end" font-weight="normal" fill="#303030" stroke="#303030" stroke-width="0.18" dominant-baseline="central">1</text>
<line x1="25.80" y1="281.60" x2="27.40" y2="281.60" stroke="#262626" stroke-width="0.5" />
<line x1="211.80" y1="281.60" x2="210.20" y2="281.60" stroke="#262626" stroke-width="0.5" />
<text transform="translate(23.20,281.90) scale(0.82,1)" font-size="7.56" text-anchor="end" font-weight="normal" fill="#303030" stroke="#303030" stroke-width="0.18" dominant-baseline="central">1.5</text>
<line x1="25.80" y1="298.40" x2="27.40" y2="298.40" stroke="#262626" stroke-width="0.5" />
<line x1="211.80" y1="298.40" x2="210.20" y2="298.40" stroke="#262626" stroke-width="0.5" />
<text transform="translate(23.20,298.70) scale(0.82,1)" font-size="7.56" text-anchor="end" font-weight="normal" fill="#303030" stroke="#303030" stroke-width="0.18" dominant-baseline="central">2</text>
<line x1="25.80" y1="315.20" x2="27.40" y2="315.20" stroke="#262626" stroke-width="0.5" />
<line x1="211.80" y1="315.20" x2="210.20" y2="315.20" stroke="#262626" stroke-width="0.5" />
<text transform="translate(23.20,315.50) scale(0.82,1)" font-size="7.56" text-anchor="end" font-weight="normal" fill="#303030" stroke="#303030" stroke-width="0.18" dominant-baseline="central">2.5</text>
<line x1="25.80" y1="332.00" x2="27.40" y2="332.00" stroke="#262626" stroke-width="0.5" />
<line x1="211.80" y1="332.00" x2="210.20" y2="332.00" stroke="#262626" stroke-width="0.5" />
<text transform="translate(23.20,332.30) scale(0.82,1)" font-size="7.56" text-anchor="end" font-weight="normal" fill="#303030" stroke="#303030" stroke-width="0.18" dominant-baseline="central">3</text>
<line x1="25.80" y1="348.80" x2="27.40" y2="348.80" stroke="#262626" stroke-width="0.5" />
<line x1="211.80" y1="348.80" x2="210.20" y2="348.80" stroke="#262626" stroke-width="0.5" />
<text transform="translate(23.20,349.10) scale(0.82,1)" font-size="7.56" text-anchor="end" font-weight="normal" fill="#303030" stroke="#303030" stroke-width="0.18" dominant-baseline="central">3.5</text>
<line x1="25.80" y1="365.60" x2="27.40" y2="365.60" stroke="#262626" stroke-width="0.5" />
<line x1="211.80" y1="365.60" x2="210.20" y2="365.60" stroke="#262626" stroke-width="0.5" />
<text transform="translate(23.20,365.90) scale(0.82,1)" font-size="7.56" text-anchor="end" font-weight="normal" fill="#303030" stroke="#303030" stroke-width="0.18" dominant-baseline="central">4</text>
<line x1="25.80" y1="382.40" x2="27.40" y2="382.40" stroke="#262626" stroke-width="0.5" />
<line x1="211.80" y1="382.40" x2="210.20" y2="382.40" stroke="#262626" stroke-width="0.5" />
<text transform="translate(23.20,382.70) scale(0.82,1)" font-size="7.56" text-anchor="end" font-weight="normal" fill="#303030" stroke="#303030" stroke-width="0.18" dominant-baseline="central">4.5</text>
<line x1="25.80" y1="399.20" x2="27.40" y2="399.20" stroke="#262626" stroke-width="0.5" />
<line x1="211.80" y1="399.20" x2="210.20" y2="399.20" stroke="#262626" stroke-width="0.5" />
<text transform="translate(23.20,399.50) scale(0.82,1)" font-size="7.56" text-anchor="end" font-weight="normal" fill="#303030" stroke="#303030" stroke-width="0.18" dominant-baseline="central">5</text>
<line x1="25.80" y1="416.00" x2="27.40" y2="416.00" stroke="#262626" stroke-width="0.5" />
<line x1="211.80" y1="416.00" x2="210.20" y2="416.00" stroke="#262626" stroke-width="0.5" />
<text transform="translate(23.20,416.30) scale(0.82,1)" font-size="7.56" text-anchor="end" font-weight="normal" fill="#303030" stroke="#303030" stroke-width="0.18" dominant-baseline="central">5.5</text>
<text transform="translate(118.80,241.90) scale(0.9,1)" font-size="8.06" text-anchor="middle" font-weight="bold" fill="#000" stroke="#000" stroke-width="0.1" dominant-baseline="central">UAV association</text>
<text transform="translate(118.80,432.90) scale(0.82,1)" font-size="8.54" text-anchor="middle" font-weight="normal" fill="#303030" stroke="#303030" stroke-width="0.18" dominant-baseline="central">Users</text>
<text transform="translate(7.4,332) rotate(-90) scale(0.82,1)" font-size="8.54" text-anchor="middle" fill="#303030" dominant-baseline="central">UAVs</text>
<defs><linearGradient id="par" x1="0" y1="1" x2="0" y2="0"><stop offset="0.000" stop-color="rgb(61,38,168)"/><stop offset="0.100" stop-color="rgb(70,70,229)"/><stop offset="0.200" stop-color="rgb(48,116,253)"/><stop offset="0.300" stop-color="rgb(24,148,228)"/><stop offset="0.400" stop-color="rgb(6,174,201)"/><stop offset="0.500" stop-color="rgb(46,190,158)"/><stop offset="0.600" stop-color="rgb(119,200,107)"/><stop offset="0.700" stop-color="rgb(192,195,64)"/><stop offset="0.800" stop-color="rgb(252,190,61)"/><stop offset="0.900" stop-color="rgb(243,224,34)"/><stop offset="1.000" stop-color="rgb(249,250,20)"/></linearGradient></defs>
<rect x="222.3" y="248.0" width="11.0" height="168.0" fill="url(#par)" stroke="#262626" stroke-width="0.6"/>
<line x1="233.30" y1="416.00" x2="231.70" y2="416.00" stroke="#262626" stroke-width="0.5" />
<text transform="translate(236.20,416.30) scale(0.82,1)" font-size="7.56" text-anchor="start" font-weight="normal" fill="#303030" stroke="#303030" stroke-width="0.18" dominant-baseline="central">0</text>
<line x1="233.30" y1="399.20" x2="231.70" y2="399.20" stroke="#262626" stroke-width="0.5" />
<text transform="translate(236.20,399.50) scale(0.82,1)" font-size="7.56" text-anchor="start" font-weight="normal" fill="#303030" stroke="#303030" stroke-width="0.18" dominant-baseline="central">0.1</text>
<line x1="233.30" y1="382.40" x2="231.70" y2="382.40" stroke="#262626" stroke-width="0.5" />
<text transform="translate(236.20,382.70) scale(0.82,1)" font-size="7.56" text-anchor="start" font-weight="normal" fill="#303030" stroke="#303030" stroke-width="0.18" dominant-baseline="central">0.2</text>
<line x1="233.30" y1="365.60" x2="231.70" y2="365.60" stroke="#262626" stroke-width="0.5" />
<text transform="translate(236.20,365.90) scale(0.82,1)" font-size="7.56" text-anchor="start" font-weight="normal" fill="#303030" stroke="#303030" stroke-width="0.18" dominant-baseline="central">0.3</text>
<line x1="233.30" y1="348.80" x2="231.70" y2="348.80" stroke="#262626" stroke-width="0.5" />
<text transform="translate(236.20,349.10) scale(0.82,1)" font-size="7.56" text-anchor="start" font-weight="normal" fill="#303030" stroke="#303030" stroke-width="0.18" dominant-baseline="central">0.4</text>
<line x1="233.30" y1="332.00" x2="231.70" y2="332.00" stroke="#262626" stroke-width="0.5" />
<text transform="translate(236.20,332.30) scale(0.82,1)" font-size="7.56" text-anchor="start" font-weight="normal" fill="#303030" stroke="#303030" stroke-width="0.18" dominant-baseline="central">0.5</text>
<line x1="233.30" y1="315.20" x2="231.70" y2="315.20" stroke="#262626" stroke-width="0.5" />
<text transform="translate(236.20,315.50) scale(0.82,1)" font-size="7.56" text-anchor="start" font-weight="normal" fill="#303030" stroke="#303030" stroke-width="0.18" dominant-baseline="central">0.6</text>
<line x1="233.30" y1="298.40" x2="231.70" y2="298.40" stroke="#262626" stroke-width="0.5" />
<text transform="translate(236.20,298.70) scale(0.82,1)" font-size="7.56" text-anchor="start" font-weight="normal" fill="#303030" stroke="#303030" stroke-width="0.18" dominant-baseline="central">0.7</text>
<line x1="233.30" y1="281.60" x2="231.70" y2="281.60" stroke="#262626" stroke-width="0.5" />
<text transform="translate(236.20,281.90) scale(0.82,1)" font-size="7.56" text-anchor="start" font-weight="normal" fill="#303030" stroke="#303030" stroke-width="0.18" dominant-baseline="central">0.8</text>
<line x1="233.30" y1="264.80" x2="231.70" y2="264.80" stroke="#262626" stroke-width="0.5" />
<text transform="translate(236.20,265.10) scale(0.82,1)" font-size="7.56" text-anchor="start" font-weight="normal" fill="#303030" stroke="#303030" stroke-width="0.18" dominant-baseline="central">0.9</text>
<line x1="233.30" y1="248.00" x2="231.70" y2="248.00" stroke="#262626" stroke-width="0.5" />
<text transform="translate(236.20,248.30) scale(0.82,1)" font-size="7.56" text-anchor="start" font-weight="normal" fill="#303030" stroke="#303030" stroke-width="0.18" dominant-baseline="central">1</text>
<line x1="328.20" y1="248.40" x2="328.20" y2="317.30" stroke="#6e6e6e" stroke-width="0.7" />
<line x1="328.20" y1="317.30" x2="541.50" y2="317.30" stroke="#6e6e6e" stroke-width="0.7" />
<line x1="328.20" y1="317.30" x2="328.20" y2="315.70" stroke="#6e6e6e" stroke-width="0.6" />
<text transform="translate(328.20,323.80) scale(0.82,1)" font-size="7.56" text-anchor="middle" font-weight="normal" fill="#303030" stroke="#303030" stroke-width="0.18" dominant-baseline="central">0</text>
<line x1="349.53" y1="317.30" x2="349.53" y2="315.70" stroke="#6e6e6e" stroke-width="0.6" />
<text transform="translate(349.53,323.80) scale(0.82,1)" font-size="7.56" text-anchor="middle" font-weight="normal" fill="#303030" stroke="#303030" stroke-width="0.18" dominant-baseline="central">2</text>
<line x1="370.86" y1="317.30" x2="370.86" y2="315.70" stroke="#6e6e6e" stroke-width="0.6" />
<text transform="translate(370.86,323.80) scale(0.82,1)" font-size="7.56" text-anchor="middle" font-weight="normal" fill="#303030" stroke="#303030" stroke-width="0.18" dominant-baseline="central">4</text>
<line x1="392.19" y1="317.30" x2="392.19" y2="315.70" stroke="#6e6e6e" stroke-width="0.6" />
<text transform="translate(392.19,323.80) scale(0.82,1)" font-size="7.56" text-anchor="middle" font-weight="normal" fill="#303030" stroke="#303030" stroke-width="0.18" dominant-baseline="central">6</text>
<line x1="413.52" y1="317.30" x2="413.52" y2="315.70" stroke="#6e6e6e" stroke-width="0.6" />
<text transform="translate(413.52,323.80) scale(0.82,1)" font-size="7.56" text-anchor="middle" font-weight="normal" fill="#303030" stroke="#303030" stroke-width="0.18" dominant-baseline="central">8</text>
<line x1="434.85" y1="317.30" x2="434.85" y2="315.70" stroke="#6e6e6e" stroke-width="0.6" />
<text transform="translate(434.85,323.80) scale(0.82,1)" font-size="7.56" text-anchor="middle" font-weight="normal" fill="#303030" stroke="#303030" stroke-width="0.18" dominant-baseline="central">10</text>
<line x1="456.18" y1="317.30" x2="456.18" y2="315.70" stroke="#6e6e6e" stroke-width="0.6" />
<text transform="translate(456.18,323.80) scale(0.82,1)" font-size="7.56" text-anchor="middle" font-weight="normal" fill="#303030" stroke="#303030" stroke-width="0.18" dominant-baseline="central">12</text>
<line x1="477.51" y1="317.30" x2="477.51" y2="315.70" stroke="#6e6e6e" stroke-width="0.6" />
<text transform="translate(477.51,323.80) scale(0.82,1)" font-size="7.56" text-anchor="middle" font-weight="normal" fill="#303030" stroke="#303030" stroke-width="0.18" dominant-baseline="central">14</text>
<line x1="498.84" y1="317.30" x2="498.84" y2="315.70" stroke="#6e6e6e" stroke-width="0.6" />
<text transform="translate(498.84,323.80) scale(0.82,1)" font-size="7.56" text-anchor="middle" font-weight="normal" fill="#303030" stroke="#303030" stroke-width="0.18" dominant-baseline="central">16</text>
<line x1="520.17" y1="317.30" x2="520.17" y2="315.70" stroke="#6e6e6e" stroke-width="0.6" />
<text transform="translate(520.17,323.80) scale(0.82,1)" font-size="7.56" text-anchor="middle" font-weight="normal" fill="#303030" stroke="#303030" stroke-width="0.18" dominant-baseline="central">18</text>
<line x1="541.50" y1="317.30" x2="541.50" y2="315.70" stroke="#6e6e6e" stroke-width="0.6" />
<text transform="translate(541.50,323.80) scale(0.82,1)" font-size="7.56" text-anchor="middle" font-weight="normal" fill="#303030" stroke="#303030" stroke-width="0.18" dominant-baseline="central">20</text>
<line x1="328.20" y1="248.40" x2="329.80" y2="248.40" stroke="#6e6e6e" stroke-width="0.6" />
<text transform="translate(326.30,248.80) scale(0.82,1)" font-size="7.56" text-anchor="end" font-weight="normal" fill="#303030" stroke="#303030" stroke-width="0.18" dominant-baseline="central">-4</text>
<line x1="328.20" y1="271.37" x2="329.80" y2="271.37" stroke="#6e6e6e" stroke-width="0.6" />
<text transform="translate(326.30,271.77) scale(0.82,1)" font-size="7.56" text-anchor="end" font-weight="normal" fill="#303030" stroke="#303030" stroke-width="0.18" dominant-baseline="central">-4.5</text>
<line x1="328.20" y1="294.33" x2="329.80" y2="294.33" stroke="#6e6e6e" stroke-width="0.6" />
<text transform="translate(326.30,294.73) scale(0.82,1)" font-size="7.56" text-anchor="end" font-weight="normal" fill="#303030" stroke="#303030" stroke-width="0.18" dominant-baseline="central">-5</text>
<line x1="328.20" y1="317.30" x2="329.80" y2="317.30" stroke="#6e6e6e" stroke-width="0.6" />
<text transform="translate(326.30,317.70) scale(0.82,1)" font-size="7.56" text-anchor="end" font-weight="normal" fill="#303030" stroke="#303030" stroke-width="0.18" dominant-baseline="central">-5.5</text>
<text transform="translate(329.40,244.60) scale(0.82,1)" font-size="6.83" text-anchor="start" font-weight="normal" fill="#555" stroke="#555" stroke-width="0.18" dominant-baseline="central">&#215;</text>
<text transform="translate(333.50,244.70) scale(0.82,1)" font-size="7.32" text-anchor="start" font-weight="normal" fill="#555" stroke="#555" stroke-width="0.18" dominant-baseline="central">10</text>
<text transform="translate(340.60,241.50) scale(0.82,1)" font-size="5.12" text-anchor="start" font-weight="normal" fill="#555" stroke="#555" stroke-width="0.18" dominant-baseline="central">7</text>
<rect x="327.60" y="296.20" width="1.2" height="1.2" fill="#222"/>
<rect x="338.26" y="301.90" width="1.2" height="1.2" fill="#222"/>
<rect x="348.93" y="303.00" width="1.2" height="1.2" fill="#222"/>
<rect x="359.59" y="302.80" width="1.2" height="1.2" fill="#222"/>
<rect x="370.26" y="305.20" width="1.2" height="1.2" fill="#222"/>
<rect x="380.92" y="305.20" width="1.2" height="1.2" fill="#222"/>
<rect x="391.59" y="305.20" width="1.2" height="1.2" fill="#222"/>
<rect x="402.25" y="306.00" width="1.2" height="1.2" fill="#222"/>
<rect x="412.92" y="306.30" width="1.2" height="1.2" fill="#222"/>
<rect x="423.58" y="306.50" width="1.2" height="1.2" fill="#222"/>
<rect x="434.25" y="306.70" width="1.2" height="1.2" fill="#222"/>
<rect x="444.91" y="307.10" width="1.2" height="1.2" fill="#222"/>
<rect x="455.58" y="307.10" width="1.2" height="1.2" fill="#222"/>
<rect x="466.25" y="306.70" width="1.2" height="1.2" fill="#222"/>
<rect x="476.91" y="306.90" width="1.2" height="1.2" fill="#222"/>
<rect x="487.57" y="306.90" width="1.2" height="1.2" fill="#222"/>
<rect x="498.24" y="306.90" width="1.2" height="1.2" fill="#222"/>
<rect x="508.90" y="306.90" width="1.2" height="1.2" fill="#222"/>
<rect x="519.57" y="306.90" width="1.2" height="1.2" fill="#222"/>
<rect x="327.50" y="254.00" width="1.4" height="1.4" fill="#1010ff"/>
<rect x="338.17" y="262.40" width="1.4" height="1.4" fill="#1010ff"/>
<rect x="348.83" y="272.00" width="1.4" height="1.4" fill="#1010ff"/>
<rect x="359.50" y="281.90" width="1.4" height="1.4" fill="#1010ff"/>
<rect x="370.16" y="290.70" width="1.4" height="1.4" fill="#1010ff"/>
<rect x="380.82" y="295.70" width="1.4" height="1.4" fill="#1010ff"/>
<rect x="391.49" y="298.70" width="1.4" height="1.4" fill="#1010ff"/>
<rect x="402.16" y="301.10" width="1.4" height="1.4" fill="#1010ff"/>
<rect x="412.82" y="302.70" width="1.4" height="1.4" fill="#1010ff"/>
<rect x="423.49" y="303.50" width="1.4" height="1.4" fill="#1010ff"/>
<rect x="434.15" y="304.20" width="1.4" height="1.4" fill="#1010ff"/>
<rect x="444.81" y="304.60" width="1.4" height="1.4" fill="#1010ff"/>
<rect x="455.48" y="305.10" width="1.4" height="1.4" fill="#1010ff"/>
<rect x="466.15" y="306.20" width="1.4" height="1.4" fill="#1010ff"/>
<rect x="476.81" y="306.60" width="1.4" height="1.4" fill="#1010ff"/>
<rect x="487.47" y="306.70" width="1.4" height="1.4" fill="#1010ff"/>
<rect x="498.14" y="306.80" width="1.4" height="1.4" fill="#1010ff"/>
<rect x="508.81" y="306.80" width="1.4" height="1.4" fill="#1010ff"/>
<rect x="519.47" y="306.80" width="1.4" height="1.4" fill="#1010ff"/>
<text transform="translate(434.80,243.20) scale(0.9,1)" font-size="7.17" text-anchor="middle" font-weight="bold" fill="#000" stroke="#000" stroke-width="0.1" dominant-baseline="central">Best: -5.29253e+07 Mean: -5.27397e+07</text>
<text transform="translate(435.00,332.30) scale(0.82,1)" font-size="8.05" text-anchor="middle" font-weight="normal" fill="#303030" stroke="#303030" stroke-width="0.18" dominant-baseline="central">Generation</text>
<text transform="translate(311.2,283.3) rotate(-90) scale(0.82,1)" font-size="8.05" text-anchor="middle" fill="#303030" dominant-baseline="central">Fitness value</text>
<line x1="404.14" y1="413.43" x2="337.44" y2="395.83" stroke="#e2e2e2" stroke-width="0.45" />
<line x1="443.12" y1="407.40" x2="376.42" y2="389.80" stroke="#e2e2e2" stroke-width="0.45" />
<line x1="482.11" y1="401.36" x2="415.41" y2="383.76" stroke="#e2e2e2" stroke-width="0.45" />
<line x1="394.00" y1="415.00" x2="482.50" y2="401.30" stroke="#e2e2e2" stroke-width="0.45" />
<line x1="360.65" y1="406.20" x2="449.15" y2="392.50" stroke="#e2e2e2" stroke-width="0.45" />
<line x1="327.30" y1="397.40" x2="415.80" y2="383.70" stroke="#e2e2e2" stroke-width="0.45" />
<line x1="337.44" y1="395.83" x2="337.44" y2="358.43" stroke="#e2e2e2" stroke-width="0.45" />
<line x1="376.42" y1="389.80" x2="376.42" y2="352.40" stroke="#e2e2e2" stroke-width="0.45" />
<line x1="415.41" y1="383.76" x2="415.41" y2="346.36" stroke="#e2e2e2" stroke-width="0.45" />
<line x1="327.30" y1="397.40" x2="415.80" y2="383.70" stroke="#e2e2e2" stroke-width="0.45" />
<line x1="327.30" y1="382.44" x2="415.80" y2="368.74" stroke="#e2e2e2" stroke-width="0.45" />
<line x1="327.30" y1="367.48" x2="415.80" y2="353.78" stroke="#e2e2e2" stroke-width="0.45" />
<line x1="482.50" y1="401.30" x2="482.50" y2="363.90" stroke="#e2e2e2" stroke-width="0.45" />
<line x1="449.15" y1="392.50" x2="449.15" y2="355.10" stroke="#e2e2e2" stroke-width="0.45" />
<line x1="415.80" y1="383.70" x2="415.80" y2="346.30" stroke="#e2e2e2" stroke-width="0.45" />
<line x1="482.50" y1="401.30" x2="415.80" y2="383.70" stroke="#e2e2e2" stroke-width="0.45" />
<line x1="482.50" y1="386.34" x2="415.80" y2="368.74" stroke="#e2e2e2" stroke-width="0.45" />
<line x1="482.50" y1="371.38" x2="415.80" y2="353.78" stroke="#e2e2e2" stroke-width="0.45" />
<line x1="327.30" y1="397.40" x2="327.30" y2="360.00" stroke="#6e6e6e" stroke-width="0.6" />
<line x1="327.30" y1="397.40" x2="394.00" y2="415.00" stroke="#6e6e6e" stroke-width="0.6" />
<line x1="394.00" y1="415.00" x2="482.50" y2="401.30" stroke="#6e6e6e" stroke-width="0.6" />
<line x1="327.30" y1="397.40" x2="325.75" y2="396.99" stroke="#6e6e6e" stroke-width="0.54" />
<line x1="327.30" y1="382.44" x2="325.75" y2="382.03" stroke="#6e6e6e" stroke-width="0.54" />
<line x1="327.30" y1="367.48" x2="325.75" y2="367.07" stroke="#6e6e6e" stroke-width="0.54" />
<line x1="404.14" y1="413.43" x2="405.68" y2="413.84" stroke="#6e6e6e" stroke-width="0.54" />
<line x1="443.12" y1="407.40" x2="444.67" y2="407.80" stroke="#6e6e6e" stroke-width="0.54" />
<line x1="482.11" y1="401.36" x2="483.66" y2="401.77" stroke="#6e6e6e" stroke-width="0.54" />
<line x1="394.00" y1="415.00" x2="392.42" y2="415.24" stroke="#6e6e6e" stroke-width="0.54" />
<line x1="360.65" y1="406.20" x2="359.07" y2="406.44" stroke="#6e6e6e" stroke-width="0.54" />
<line x1="327.30" y1="397.40" x2="325.72" y2="397.64" stroke="#6e6e6e" stroke-width="0.54" />
<text transform="translate(325.50,396.60) scale(0.82,1)" font-size="7.20" text-anchor="end" font-weight="normal" fill="#303030" stroke="#303030" stroke-width="0.18" dominant-baseline="central">0</text>
<text transform="translate(325.50,382.10) scale(0.82,1)" font-size="7.20" text-anchor="end" font-weight="normal" fill="#303030" stroke="#303030" stroke-width="0.18" dominant-baseline="central">10</text>
<text transform="translate(325.50,367.10) scale(0.82,1)" font-size="7.20" text-anchor="end" font-weight="normal" fill="#303030" stroke="#303030" stroke-width="0.18" dominant-baseline="central">20</text>
<text transform="translate(412.50,419.20) scale(0.82,1)" font-size="7.20" text-anchor="middle" font-weight="normal" fill="#303030" stroke="#303030" stroke-width="0.18" dominant-baseline="central">-500</text>
<text transform="translate(446.00,413.20) scale(0.82,1)" font-size="7.20" text-anchor="middle" font-weight="normal" fill="#303030" stroke="#303030" stroke-width="0.18" dominant-baseline="central">0</text>
<text transform="translate(488.00,407.60) scale(0.82,1)" font-size="7.20" text-anchor="middle" font-weight="normal" fill="#303030" stroke="#303030" stroke-width="0.18" dominant-baseline="central">500</text>
<text transform="translate(319.00,400.80) scale(0.82,1)" font-size="7.20" text-anchor="middle" font-weight="normal" fill="#303030" stroke="#303030" stroke-width="0.18" dominant-baseline="central">500</text>
<text transform="translate(356.40,411.40) scale(0.82,1)" font-size="7.20" text-anchor="middle" font-weight="normal" fill="#303030" stroke="#303030" stroke-width="0.18" dominant-baseline="central">0</text>
<text transform="translate(386.40,419.50) scale(0.82,1)" font-size="7.20" text-anchor="middle" font-weight="normal" fill="#303030" stroke="#303030" stroke-width="0.18" dominant-baseline="central">-500</text>
<text transform="translate(446.00,424.50) scale(0.82,1)" font-size="7.80" text-anchor="middle" font-weight="normal" fill="#303030" stroke="#303030" stroke-width="0.18" dominant-baseline="central">X (m)</text>
<text transform="translate(350.20,424.60) scale(0.82,1)" font-size="7.80" text-anchor="middle" font-weight="normal" fill="#303030" stroke="#303030" stroke-width="0.18" dominant-baseline="central">Y (m)</text>
<text transform="translate(311.8,379) rotate(-90) scale(0.82,1)" font-size="7.80" text-anchor="middle" fill="#303030" dominant-baseline="central">Z (m)</text>
<text transform="translate(406.40,341.60) scale(0.9,1)" font-size="7.17" text-anchor="middle" font-weight="bold" fill="#000" stroke="#000" stroke-width="0.1" dominant-baseline="central">During opt.: UAV assoc/ HAPS assoc/ Th:95/105/52199758.6671</text>
<circle cx="428.57" cy="382.22" r="0.70" fill="#0072BD"/>
<circle cx="415.15" cy="383.91" r="0.70" fill="#0072BD"/>
<circle cx="424.59" cy="382.85" r="0.70" fill="#0072BD"/>
<circle cx="423.36" cy="383.51" r="0.70" fill="#0072BD"/>
<circle cx="416.50" cy="383.62" r="0.70" fill="#0072BD"/>
<circle cx="427.72" cy="380.95" r="0.70" fill="#0072BD"/>
<circle cx="429.60" cy="383.05" r="0.70" fill="#0072BD"/>
<circle cx="413.14" cy="385.98" r="0.70" fill="#0072BD"/>
<circle cx="423.85" cy="382.53" r="0.70" fill="#0072BD"/>
<circle cx="429.48" cy="383.68" r="0.70" fill="#0072BD"/>
<circle cx="411.53" cy="385.01" r="0.70" fill="#0072BD"/>
<circle cx="415.15" cy="384.91" r="0.70" fill="#0072BD"/>
<circle cx="424.04" cy="383.13" r="0.70" fill="#0072BD"/>
<circle cx="414.96" cy="384.55" r="0.70" fill="#0072BD"/>
<circle cx="427.61" cy="385.43" r="0.70" fill="#0072BD"/>
<circle cx="422.15" cy="386.32" r="0.70" fill="#0072BD"/>
<circle cx="422.14" cy="381.27" r="0.70" fill="#0072BD"/>
<circle cx="408.57" cy="384.37" r="0.70" fill="#0072BD"/>
<circle cx="416.16" cy="383.23" r="0.70" fill="#0072BD"/>
<circle cx="425.58" cy="382.09" r="0.70" fill="#0072BD"/>
<circle cx="415.29" cy="384.23" r="0.70" fill="#0072BD"/>
<circle cx="430.53" cy="383.71" r="0.70" fill="#0072BD"/>
<circle cx="421.93" cy="381.08" r="0.70" fill="#0072BD"/>
<circle cx="429.49" cy="383.85" r="0.70" fill="#0072BD"/>
<circle cx="421.06" cy="383.34" r="0.70" fill="#0072BD"/>
<circle cx="418.37" cy="386.36" r="0.70" fill="#0072BD"/>
<circle cx="427.58" cy="381.35" r="0.70" fill="#0072BD"/>
<circle cx="417.88" cy="385.06" r="0.70" fill="#0072BD"/>
<circle cx="409.83" cy="380.87" r="0.70" fill="#0072BD"/>
<circle cx="417.57" cy="381.40" r="0.70" fill="#0072BD"/>
<circle cx="417.77" cy="384.99" r="0.70" fill="#0072BD"/>
<circle cx="418.93" cy="382.89" r="0.70" fill="#0072BD"/>
<circle cx="410.93" cy="380.67" r="0.70" fill="#0072BD"/>
<circle cx="430.90" cy="383.60" r="0.70" fill="#0072BD"/>
<circle cx="412.93" cy="383.36" r="0.70" fill="#0072BD"/>
<circle cx="430.62" cy="382.15" r="0.70" fill="#0072BD"/>
<circle cx="418.85" cy="385.21" r="0.70" fill="#0072BD"/>
<circle cx="410.71" cy="383.19" r="0.70" fill="#0072BD"/>
<circle cx="396.23" cy="394.66" r="0.70" fill="#0072BD"/>
<circle cx="390.96" cy="388.28" r="0.70" fill="#0072BD"/>
<circle cx="393.19" cy="388.27" r="0.70" fill="#0072BD"/>
<circle cx="387.49" cy="393.98" r="0.70" fill="#0072BD"/>
<circle cx="387.50" cy="393.05" r="0.70" fill="#0072BD"/>
<circle cx="400.64" cy="393.02" r="0.70" fill="#0072BD"/>
<circle cx="391.79" cy="389.90" r="0.70" fill="#0072BD"/>
<circle cx="396.95" cy="392.21" r="0.70" fill="#0072BD"/>
<circle cx="389.70" cy="391.29" r="0.70" fill="#0072BD"/>
<circle cx="398.21" cy="391.25" r="0.70" fill="#0072BD"/>
<circle cx="402.48" cy="391.24" r="0.70" fill="#0072BD"/>
<circle cx="396.81" cy="392.43" r="0.70" fill="#0072BD"/>
<circle cx="388.13" cy="391.51" r="0.70" fill="#0072BD"/>
<circle cx="382.54" cy="392.49" r="0.70" fill="#0072BD"/>
<circle cx="386.88" cy="392.37" r="0.70" fill="#0072BD"/>
<circle cx="387.54" cy="388.98" r="0.70" fill="#0072BD"/>
<circle cx="397.39" cy="388.95" r="0.70" fill="#0072BD"/>
<circle cx="398.49" cy="393.52" r="0.70" fill="#0072BD"/>
<circle cx="388.84" cy="394.68" r="0.70" fill="#0072BD"/>
<circle cx="385.66" cy="393.44" r="0.70" fill="#0072BD"/>
<circle cx="394.80" cy="394.44" r="0.70" fill="#0072BD"/>
<circle cx="391.87" cy="393.29" r="0.70" fill="#0072BD"/>
<circle cx="395.06" cy="390.56" r="0.70" fill="#0072BD"/>
<circle cx="387.66" cy="393.93" r="0.70" fill="#0072BD"/>
<circle cx="398.93" cy="391.39" r="0.70" fill="#0072BD"/>
<circle cx="392.66" cy="394.05" r="0.70" fill="#0072BD"/>
<circle cx="385.80" cy="388.84" r="0.70" fill="#0072BD"/>
<circle cx="400.86" cy="393.65" r="0.70" fill="#0072BD"/>
<circle cx="395.03" cy="389.25" r="0.70" fill="#0072BD"/>
<circle cx="400.75" cy="389.81" r="0.70" fill="#0072BD"/>
<circle cx="391.07" cy="392.20" r="0.70" fill="#0072BD"/>
<circle cx="393.17" cy="392.65" r="0.70" fill="#0072BD"/>
<circle cx="381.87" cy="389.73" r="0.70" fill="#0072BD"/>
<circle cx="383.99" cy="394.00" r="0.70" fill="#0072BD"/>
<circle cx="381.54" cy="392.55" r="0.70" fill="#0072BD"/>
<circle cx="392.72" cy="389.69" r="0.70" fill="#0072BD"/>
<circle cx="400.50" cy="393.66" r="0.70" fill="#0072BD"/>
<circle cx="385.23" cy="389.60" r="0.70" fill="#0072BD"/>
<circle cx="375.36" cy="405.44" r="0.70" fill="#0072BD"/>
<circle cx="381.17" cy="405.51" r="0.70" fill="#0072BD"/>
<circle cx="374.09" cy="402.76" r="0.70" fill="#0072BD"/>
<circle cx="382.89" cy="407.25" r="0.70" fill="#0072BD"/>
<circle cx="379.02" cy="404.40" r="0.70" fill="#0072BD"/>
<circle cx="384.17" cy="407.18" r="0.70" fill="#0072BD"/>
<circle cx="381.91" cy="406.25" r="0.70" fill="#0072BD"/>
<circle cx="368.04" cy="402.89" r="0.70" fill="#0072BD"/>
<circle cx="382.47" cy="404.63" r="0.70" fill="#0072BD"/>
<circle cx="371.51" cy="403.18" r="0.70" fill="#0072BD"/>
<circle cx="388.91" cy="405.82" r="0.70" fill="#0072BD"/>
<circle cx="377.84" cy="402.40" r="0.70" fill="#0072BD"/>
<circle cx="377.88" cy="406.63" r="0.70" fill="#0072BD"/>
<circle cx="386.97" cy="403.32" r="0.70" fill="#0072BD"/>
<circle cx="372.70" cy="403.05" r="0.70" fill="#0072BD"/>
<circle cx="372.61" cy="405.26" r="0.70" fill="#0072BD"/>
<circle cx="392.43" cy="403.92" r="0.70" fill="#0072BD"/>
<circle cx="382.39" cy="406.40" r="0.70" fill="#0072BD"/>
<circle cx="383.06" cy="407.43" r="0.70" fill="#0072BD"/>
<circle cx="380.56" cy="403.81" r="0.70" fill="#0072BD"/>
<circle cx="383.52" cy="401.53" r="0.70" fill="#0072BD"/>
<circle cx="386.17" cy="402.20" r="0.70" fill="#0072BD"/>
<circle cx="384.56" cy="406.43" r="0.70" fill="#0072BD"/>
<circle cx="378.12" cy="403.84" r="0.70" fill="#0072BD"/>
<circle cx="388.95" cy="402.20" r="0.70" fill="#0072BD"/>
<circle cx="376.76" cy="403.13" r="0.70" fill="#0072BD"/>
<circle cx="371.36" cy="403.93" r="0.70" fill="#0072BD"/>
<circle cx="378.61" cy="405.57" r="0.70" fill="#0072BD"/>
<circle cx="388.53" cy="402.63" r="0.70" fill="#0072BD"/>
<circle cx="375.19" cy="404.08" r="0.70" fill="#0072BD"/>
<circle cx="391.73" cy="403.22" r="0.70" fill="#0072BD"/>
<circle cx="383.96" cy="405.33" r="0.70" fill="#0072BD"/>
<circle cx="392.85" cy="403.38" r="0.70" fill="#0072BD"/>
<circle cx="388.69" cy="404.96" r="0.70" fill="#0072BD"/>
<circle cx="369.65" cy="406.62" r="0.70" fill="#0072BD"/>
<circle cx="370.22" cy="401.26" r="0.70" fill="#0072BD"/>
<circle cx="386.35" cy="407.22" r="0.70" fill="#0072BD"/>
<circle cx="381.82" cy="407.67" r="0.70" fill="#0072BD"/>
<circle cx="384.66" cy="401.80" r="0.70" fill="#0072BD"/>
<circle cx="384.80" cy="407.49" r="0.70" fill="#0072BD"/>
<circle cx="433.34" cy="402.13" r="0.70" fill="#0072BD"/>
<circle cx="430.97" cy="403.20" r="0.70" fill="#0072BD"/>
<circle cx="439.10" cy="402.52" r="0.70" fill="#0072BD"/>
<circle cx="449.20" cy="398.04" r="0.70" fill="#0072BD"/>
<circle cx="436.19" cy="400.30" r="0.70" fill="#0072BD"/>
<circle cx="451.68" cy="401.77" r="0.70" fill="#0072BD"/>
<circle cx="449.14" cy="403.91" r="0.70" fill="#0072BD"/>
<circle cx="427.96" cy="399.45" r="0.70" fill="#0072BD"/>
<circle cx="434.89" cy="404.56" r="0.70" fill="#0072BD"/>
<circle cx="430.56" cy="399.03" r="0.70" fill="#0072BD"/>
<circle cx="433.70" cy="397.85" r="0.70" fill="#0072BD"/>
<circle cx="429.72" cy="402.01" r="0.70" fill="#0072BD"/>
<circle cx="437.32" cy="400.16" r="0.70" fill="#0072BD"/>
<circle cx="439.97" cy="404.32" r="0.70" fill="#0072BD"/>
<circle cx="441.45" cy="396.24" r="0.70" fill="#0072BD"/>
<circle cx="443.35" cy="403.88" r="0.70" fill="#0072BD"/>
<circle cx="447.07" cy="402.93" r="0.70" fill="#0072BD"/>
<circle cx="434.13" cy="401.49" r="0.70" fill="#0072BD"/>
<circle cx="434.76" cy="401.26" r="0.70" fill="#0072BD"/>
<circle cx="449.36" cy="401.64" r="0.70" fill="#0072BD"/>
<circle cx="449.40" cy="402.75" r="0.70" fill="#0072BD"/>
<circle cx="441.22" cy="396.31" r="0.70" fill="#0072BD"/>
<circle cx="449.11" cy="401.94" r="0.70" fill="#0072BD"/>
<circle cx="431.34" cy="403.26" r="0.70" fill="#0072BD"/>
<circle cx="448.59" cy="404.53" r="0.70" fill="#0072BD"/>
<circle cx="452.88" cy="400.58" r="0.70" fill="#0072BD"/>
<circle cx="444.10" cy="396.62" r="0.70" fill="#0072BD"/>
<circle cx="445.56" cy="400.44" r="0.70" fill="#0072BD"/>
<circle cx="449.13" cy="399.72" r="0.70" fill="#0072BD"/>
<circle cx="446.30" cy="404.99" r="0.70" fill="#0072BD"/>
<circle cx="451.07" cy="398.75" r="0.70" fill="#0072BD"/>
<circle cx="436.73" cy="401.77" r="0.70" fill="#0072BD"/>
<circle cx="446.07" cy="404.50" r="0.70" fill="#0072BD"/>
<circle cx="436.78" cy="405.56" r="0.70" fill="#0072BD"/>
<circle cx="447.40" cy="404.38" r="0.70" fill="#0072BD"/>
<circle cx="448.31" cy="398.92" r="0.70" fill="#0072BD"/>
<circle cx="438.45" cy="403.07" r="0.70" fill="#0072BD"/>
<circle cx="434.51" cy="404.06" r="0.70" fill="#0072BD"/>
<circle cx="440.19" cy="401.61" r="0.70" fill="#0072BD"/>
<circle cx="444.55" cy="399.89" r="0.70" fill="#0072BD"/>
<circle cx="448.79" cy="398.08" r="0.70" fill="#0072BD"/>
<circle cx="440.34" cy="398.61" r="0.70" fill="#0072BD"/>
<circle cx="434.01" cy="400.36" r="0.70" fill="#0072BD"/>
<circle cx="431.39" cy="403.90" r="0.70" fill="#0072BD"/>
<circle cx="425.82" cy="399.05" r="0.70" fill="#0072BD"/>
<circle cx="447.45" cy="398.04" r="0.70" fill="#0072BD"/>
<circle cx="443.85" cy="400.63" r="0.70" fill="#0072BD"/>
<circle cx="429.63" cy="403.24" r="0.70" fill="#0072BD"/>
<circle cx="437.76" cy="405.32" r="0.70" fill="#0072BD"/>
<circle cx="425.80" cy="398.28" r="0.70" fill="#0072BD"/>
<circle cx="439.83" cy="397.59" r="0.70" fill="#0072BD"/>
<circle cx="443.43" cy="403.80" r="0.70" fill="#0072BD"/>
<circle cx="451.34" cy="402.04" r="0.70" fill="#0072BD"/>
<circle cx="438.69" cy="405.41" r="0.70" fill="#0072BD"/>
<circle cx="450.93" cy="400.28" r="0.70" fill="#0072BD"/>
<line x1="375.80" y1="405.40" x2="375.80" y2="371.90" stroke="#D95319" stroke-width="0.6" stroke-opacity="0.48"/>
<line x1="392.70" y1="393.20" x2="392.70" y2="359.10" stroke="#D95319" stroke-width="0.6" stroke-opacity="0.48"/>
<line x1="413.70" y1="385.00" x2="413.70" y2="350.40" stroke="#D95319" stroke-width="0.6" stroke-opacity="0.48"/>
<line x1="436.40" y1="405.40" x2="436.40" y2="369.50" stroke="#D95319" stroke-width="0.6" stroke-opacity="0.48"/>
<line x1="438.50" y1="404.00" x2="438.50" y2="365.40" stroke="#D95319" stroke-width="0.6" stroke-opacity="0.48"/>
<circle cx="375.80" cy="371.90" r="1.15" fill="#E2703F"/>
<circle cx="392.70" cy="359.10" r="1.15" fill="#E2703F"/>
<circle cx="413.70" cy="350.40" r="1.15" fill="#E2703F"/>
<circle cx="436.40" cy="369.50" r="1.15" fill="#E2703F"/>
<circle cx="438.50" cy="365.40" r="1.15" fill="#E2703F"/>
<rect x="502" y="346.4" width="39.60000000000002" height="15.0" fill="#fff" stroke="#a0a0a0" stroke-width="0.6"/>
<rect x="512.78" y="350.05" width="1.4" height="1.4" fill="#0072BD"/>
<line x1="503.78" y1="357.72" x2="517.25" y2="357.72" stroke="#D95319" stroke-width="0.75" stroke-opacity="0.85"/>
<circle cx="517.05" cy="357.72" r="1.35" fill="#E2703F"/>
<text transform="translate(539.62,350.75) scale(0.82,1)" font-size="6.83" text-anchor="end" font-weight="normal" fill="#303030" stroke="#303030" stroke-width="0.18" dominant-baseline="central">Users</text>
<text transform="translate(539.62,357.72) scale(0.82,1)" font-size="6.83" text-anchor="end" font-weight="normal" fill="#303030" stroke="#303030" stroke-width="0.18" dominant-baseline="central">UAVs</text>
<rect x="293.4" y="427.1" width="23.3" height="9.2" fill="#e1e1e1" stroke="#b4b4b4" stroke-width="0.6"/>
<text transform="translate(305.05,431.90) scale(0.82,1)" font-size="7.07" text-anchor="middle" font-weight="normal" fill="#000" stroke="#000" stroke-width="0.18" dominant-baseline="central">Stop</text>
<rect x="322.2" y="427.1" width="23.5" height="9.2" fill="#cce4f7" stroke="#2a7fd4" stroke-width="0.7"/>
<text transform="translate(333.95,431.90) scale(0.82,1)" font-size="7.07" text-anchor="middle" font-weight="normal" fill="#000" stroke="#000" stroke-width="0.18" dominant-baseline="central">Resume</text>
<text x="132.75" y="225.1" font-family="Liberation Serif, serif" font-size="10.6" text-anchor="middle" fill="#111" dominant-baseline="central">(<tspan font-weight="bold">a</tspan>) Initial UAV Placement.</text>
<text x="431.2" y="225.1" font-family="Liberation Serif, serif" font-size="10.6" text-anchor="middle" fill="#111" dominant-baseline="central">(<tspan font-weight="bold">b</tspan>) Optimal UAV Placement</text>
<text x="132.5" y="448.7" font-family="Liberation Serif, serif" font-size="10.6" text-anchor="middle" fill="#111" dominant-baseline="central">(<tspan font-weight="bold">c</tspan>) UAV Association Matrix</text>
<text x="431.6" y="448.9" font-family="Liberation Serif, serif" font-size="10.6" text-anchor="middle" fill="#111" dominant-baseline="central">(<tspan font-weight="bold">d</tspan>) Genetic Algorithm</text>
</svg></body></html>
